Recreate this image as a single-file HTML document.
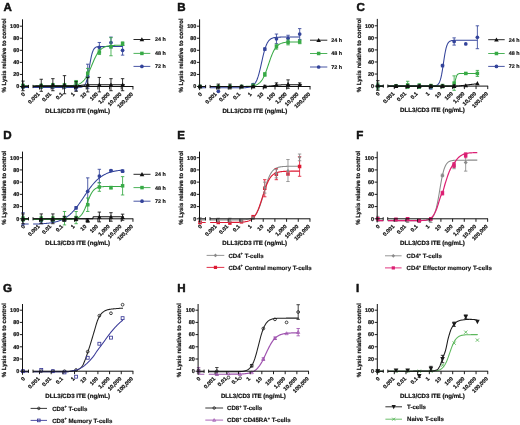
<!DOCTYPE html>
<html><head><meta charset="utf-8"><title>Figure</title>
<style>
html,body{margin:0;padding:0;background:#fff;}
body{width:520px;height:425px;overflow:hidden;}
svg{display:block;filter:blur(0.3px);text-rendering:geometricPrecision;font-family:"Liberation Sans",Arial,sans-serif;font-weight:bold;fill:#111;}
text{stroke:#111;stroke-width:0.22px;stroke-linejoin:round;}
.lg,.lg2{stroke-width:0.15px;}
.pl{stroke-width:0.5px;}
.tk{stroke-width:0.38px;}
.tk{font-size:5.5px;}
.ti{font-size:6.15px;}
.ty{font-size:6px;}
.lg{font-size:5.4px;}
.lg2{font-size:6.1px;}
.pl{font-size:11.6px;}
</style></head><body>
<svg width="520" height="425" viewBox="0 0 520 425">
<rect width="520" height="425" fill="#fff"/>
<g class="tk" text-anchor="end">
<text x="19.3" y="88.3">0</text>
<text x="19.3" y="76.24">20</text>
<text x="19.3" y="64.18">40</text>
<text x="19.3" y="52.12">60</text>
<text x="19.3" y="40.06">80</text>
<text x="19.3" y="28">100</text>
</g>
<g class="tk" text-anchor="end">
<text transform="translate(25.4 94.5) rotate(-45)">0</text>
<text transform="translate(40.1 94.5) rotate(-45)">0.001</text>
<text transform="translate(51.78 94.5) rotate(-45)">0.01</text>
<text transform="translate(63.46 94.5) rotate(-45)">0.1</text>
<text transform="translate(75.14 94.5) rotate(-45)">1</text>
<text transform="translate(86.82 94.5) rotate(-45)">10</text>
<text transform="translate(98.5 94.5) rotate(-45)">100</text>
<text transform="translate(110.18 94.5) rotate(-45)">1,000</text>
<text transform="translate(121.86 94.5) rotate(-45)">10,000</text>
<text transform="translate(133.54 94.5) rotate(-45)">100,000</text>
</g>
<text class="ti" text-anchor="middle" x="77.72" y="112.8">DLL3/CD3 ITE (ng/mL)</text>
<text class="ty" text-anchor="middle" transform="translate(5.7 55.5) rotate(-90)">% Lysis relative to control</text>
<text class="pl" x="3.4" y="11">A</text>
<path d="M33.13 87.4L33.77 87.4L34.41 87.4L35.05 87.4L35.68 87.4L36.32 87.4L36.96 87.4L37.6 87.4L38.24 87.4L38.88 87.4L39.52 87.4L40.16 87.4L40.8 87.4L41.44 87.4L42.07 87.4L42.71 87.4L43.35 87.4L43.99 87.4L44.63 87.4L45.27 87.4L45.91 87.4L46.55 87.4L47.19 87.4L47.83 87.4L48.46 87.4L49.1 87.4L49.74 87.4L50.38 87.4L51.02 87.4L51.66 87.4L52.3 87.4L52.94 87.4L53.58 87.4L54.22 87.4L54.85 87.4L55.49 87.4L56.13 87.4L56.77 87.4L57.41 87.4L58.05 87.4L58.69 87.4L59.33 87.4L59.97 87.4L60.61 87.4L61.24 87.4L61.88 87.4L62.52 87.4L63.16 87.4L63.8 87.4L64.44 87.4L65.08 87.4L65.72 87.4L66.36 87.4L67 87.4L67.63 87.4L68.27 87.4L68.91 87.4L69.55 87.4L70.19 87.4L70.83 87.4L71.47 87.4L72.11 87.4L72.75 87.4L73.39 87.4L74.02 87.4L74.66 87.4L75.3 87.4L75.94 87.39L76.58 87.38L77.22 87.38L77.86 87.36L78.5 87.34L79.14 87.31L79.78 87.27L80.42 87.21L81.05 87.12L81.69 87L82.33 86.81L82.97 86.54L83.61 86.15L84.25 85.6L84.89 84.82L85.53 83.73L86.17 82.25L86.81 80.28L87.44 77.76L88.08 74.69L88.72 71.14L89.36 67.31L90 63.45L90.64 59.82L91.28 56.64L91.92 54L92.56 51.93L93.2 50.35L93.83 49.18L94.47 48.35L95.11 47.75L95.75 47.33L96.39 47.04L97.03 46.84L97.67 46.7L98.31 46.61L98.95 46.54L99.59 46.5L100.22 46.47L100.86 46.45L101.5 46.43L102.14 46.42L102.78 46.42L103.42 46.41L104.06 46.41L104.7 46.41L105.34 46.4L105.98 46.4L106.61 46.4L107.25 46.4L107.89 46.4L108.53 46.4L109.17 46.4L109.81 46.4L110.45 46.4L111.09 46.4L111.73 46.4L112.37 46.4L113 46.4L113.64 46.4L114.28 46.4L114.92 46.4L115.56 46.4L116.2 46.4L116.84 46.4L117.48 46.4L118.12 46.4L118.76 46.4L119.39 46.4L120.03 46.4L120.67 46.4L121.31 46.4L121.95 46.4L122.59 46.4M22.5 87.4H28.7" stroke="#33439a" stroke-width="1.05" fill="none" stroke-linejoin="round"/>
<path d="M23 84.69V88.31M21.3 84.69h3.4M21.3 88.31h3.4M41.25 84.69V88.31M39.55 84.69h3.4M39.55 88.31h3.4M52.87 84.69V88.31M51.17 84.69h3.4M51.17 88.31h3.4M64.49 84.69V88.31M62.79 84.69h3.4M62.79 88.31h3.4M76.11 84.69V90.72M74.41 84.69h3.4M74.41 90.72h3.4M87.73 64.19V88.31M86.03 64.19h3.4M86.03 88.31h3.4M99.35 42.48V52.13M97.65 42.48h3.4M97.65 52.13h3.4M110.97 37.05V47.91M109.27 37.05h3.4M109.27 47.91h3.4M122.59 45.5V55.14M120.89 45.5h3.4M120.89 55.14h3.4" stroke="#33439a" stroke-width="0.85" fill="none"/>
<circle cx="23" cy="86.5" r="1.85" fill="#33439a"/>
<circle cx="41.25" cy="86.5" r="1.85" fill="#33439a"/>
<circle cx="52.87" cy="86.5" r="1.85" fill="#33439a"/>
<circle cx="64.49" cy="86.5" r="1.85" fill="#33439a"/>
<circle cx="76.11" cy="87.71" r="1.85" fill="#33439a"/>
<circle cx="87.73" cy="76.25" r="1.85" fill="#33439a"/>
<circle cx="99.35" cy="47.3" r="1.85" fill="#33439a"/>
<circle cx="110.97" cy="42.48" r="1.85" fill="#33439a"/>
<circle cx="122.59" cy="50.32" r="1.85" fill="#33439a"/>
<path d="M33.13 85.9L33.77 85.9L34.41 85.9L35.05 85.9L35.68 85.9L36.32 85.9L36.96 85.9L37.6 85.9L38.24 85.9L38.88 85.9L39.52 85.9L40.16 85.9L40.8 85.9L41.44 85.9L42.07 85.9L42.71 85.9L43.35 85.9L43.99 85.9L44.63 85.9L45.27 85.9L45.91 85.9L46.55 85.9L47.19 85.9L47.83 85.9L48.46 85.9L49.1 85.9L49.74 85.9L50.38 85.89L51.02 85.89L51.66 85.89L52.3 85.89L52.94 85.89L53.58 85.89L54.22 85.89L54.85 85.89L55.49 85.89L56.13 85.89L56.77 85.89L57.41 85.89L58.05 85.88L58.69 85.88L59.33 85.88L59.97 85.88L60.61 85.87L61.24 85.87L61.88 85.86L62.52 85.86L63.16 85.85L63.8 85.84L64.44 85.83L65.08 85.82L65.72 85.81L66.36 85.8L67 85.78L67.63 85.76L68.27 85.74L68.91 85.72L69.55 85.69L70.19 85.65L70.83 85.61L71.47 85.57L72.11 85.52L72.75 85.45L73.39 85.38L74.02 85.3L74.66 85.2L75.3 85.09L75.94 84.96L76.58 84.81L77.22 84.64L77.86 84.44L78.5 84.21L79.14 83.95L79.78 83.64L80.42 83.3L81.05 82.9L81.69 82.45L82.33 81.94L82.97 81.37L83.61 80.72L84.25 79.99L84.89 79.18L85.53 78.29L86.17 77.3L86.81 76.23L87.44 75.06L88.08 73.81L88.72 72.48L89.36 71.08L90 69.62L90.64 68.12L91.28 66.59L91.92 65.04L92.56 63.5L93.2 61.99L93.83 60.51L94.47 59.09L95.11 57.73L95.75 56.45L96.39 55.26L97.03 54.15L97.67 53.14L98.31 52.21L98.95 51.37L99.59 50.62L100.22 49.94L100.86 49.34L101.5 48.81L102.14 48.34L102.78 47.92L103.42 47.56L104.06 47.24L104.7 46.97L105.34 46.73L105.98 46.52L106.61 46.34L107.25 46.18L107.89 46.04L108.53 45.93L109.17 45.82L109.81 45.74L110.45 45.66L111.09 45.6L111.73 45.54L112.37 45.49L113 45.45L113.64 45.41L114.28 45.38L114.92 45.36L115.56 45.33L116.2 45.31L116.84 45.3L117.48 45.28L118.12 45.27L118.76 45.26L119.39 45.25L120.03 45.24L120.67 45.24L121.31 45.23L121.95 45.23L122.59 45.22M22.5 85.9H28.7" stroke="#38aa46" stroke-width="1.05" fill="none" stroke-linejoin="round"/>
<path d="M23 84.09V87.71M21.3 84.09h3.4M21.3 87.71h3.4M41.25 84.09V87.71M39.55 84.09h3.4M39.55 87.71h3.4M52.87 83.48V87.1M51.17 83.48h3.4M51.17 87.1h3.4M64.49 83.48V87.1M62.79 83.48h3.4M62.79 87.1h3.4M76.11 80.47V84.09M74.41 80.47h3.4M74.41 84.09h3.4M87.73 68.41V78.06M86.03 68.41h3.4M86.03 78.06h3.4M99.35 49.72V54.54M97.65 49.72h3.4M97.65 54.54h3.4M110.97 37.66V55.75M109.27 37.66h3.4M109.27 55.75h3.4M122.59 41.88V45.5M120.89 41.88h3.4M120.89 45.5h3.4" stroke="#38aa46" stroke-width="0.85" fill="none"/>
<rect x="21.25" y="84.15" width="3.5" height="3.5" fill="#38aa46"/>
<rect x="39.5" y="84.15" width="3.5" height="3.5" fill="#38aa46"/>
<rect x="51.12" y="83.54" width="3.5" height="3.5" fill="#38aa46"/>
<rect x="62.74" y="83.54" width="3.5" height="3.5" fill="#38aa46"/>
<rect x="74.36" y="80.53" width="3.5" height="3.5" fill="#38aa46"/>
<rect x="85.98" y="71.48" width="3.5" height="3.5" fill="#38aa46"/>
<rect x="97.6" y="50.38" width="3.5" height="3.5" fill="#38aa46"/>
<rect x="109.22" y="44.95" width="3.5" height="3.5" fill="#38aa46"/>
<rect x="120.84" y="41.94" width="3.5" height="3.5" fill="#38aa46"/>
<path d="M33.13 85.9L33.78 85.9L34.44 85.9L35.1 85.9L35.75 85.89L36.41 85.89L37.06 85.89L37.72 85.89L38.38 85.89L39.03 85.89L39.69 85.89L40.34 85.89L41 85.89L41.66 85.89L42.31 85.89L42.97 85.89L43.62 85.88L44.28 85.88L44.94 85.88L45.59 85.88L46.25 85.88L46.9 85.88L47.56 85.88L48.21 85.87L48.87 85.87L49.53 85.87L50.18 85.87L50.84 85.87L51.49 85.86L52.15 85.86L52.81 85.86L53.46 85.86L54.12 85.85L54.77 85.85L55.43 85.85L56.09 85.85L56.74 85.84L57.4 85.84L58.05 85.84L58.71 85.83L59.37 85.83L60.02 85.83L60.68 85.83L61.33 85.82L61.99 85.82L62.65 85.81L63.3 85.81L63.96 85.81L64.61 85.8L65.27 85.8L65.93 85.79L66.58 85.79L67.24 85.79L67.89 85.78L68.55 85.78L69.21 85.77L69.86 85.77L70.52 85.76L71.17 85.76L71.83 85.75L72.49 85.75L73.14 85.74L73.8 85.74L74.45 85.73L75.11 85.73L75.77 85.72L76.42 85.71L77.08 85.69L77.73 85.66L78.39 85.61L79.04 85.56L79.7 85.5L80.36 85.43L81.01 85.36L81.67 85.29L82.32 85.22L82.98 85.14L83.64 85.07L84.29 85.01L84.95 84.95L85.6 84.9L86.26 84.86L86.92 84.83L87.57 84.81L88.23 84.81L88.88 84.8L89.54 84.8L90.2 84.8L90.85 84.79L91.51 84.79L92.16 84.78L92.82 84.78L93.48 84.78L94.13 84.77L94.79 84.77L95.44 84.77L96.1 84.76L96.76 84.76L97.41 84.76L98.07 84.75L98.72 84.75L99.38 84.75L100.04 84.74L100.69 84.74L101.35 84.74L102 84.74L102.66 84.73L103.32 84.73L103.97 84.73L104.63 84.73L105.28 84.72L105.94 84.72L106.6 84.72L107.25 84.72L107.91 84.72L108.56 84.71L109.22 84.71L109.87 84.71L110.53 84.71L111.19 84.71L111.84 84.71L112.5 84.71L113.15 84.7L113.81 84.7L114.47 84.7L115.12 84.7L115.78 84.7L116.43 84.7L117.09 84.7L117.75 84.7L118.4 84.7L119.06 84.7L119.71 84.69L120.37 84.69L121.03 84.69L121.68 84.69L122.34 84.69L122.99 84.69L123.65 84.69L124.31 84.69L124.96 84.69M22.5 85.9H28.7" stroke="#111" stroke-width="1.05" fill="none" stroke-linejoin="round"/>
<path d="M23 81.07V90.72M21.3 81.07h3.4M21.3 90.72h3.4M41.25 79.26V91.32M39.55 79.26h3.4M39.55 91.32h3.4M52.87 78.66V90.72M51.17 78.66h3.4M51.17 90.72h3.4M64.49 75.65V93.74M62.79 75.65h3.4M62.79 93.74h3.4M76.11 81.68V91.32M74.41 81.68h3.4M74.41 91.32h3.4M87.73 77.45V91.93M86.03 77.45h3.4M86.03 91.93h3.4M99.35 77.45V91.93M97.65 77.45h3.4M97.65 91.93h3.4M110.97 78.66V90.72M109.27 78.66h3.4M109.27 90.72h3.4M122.59 78.66V90.72M120.89 78.66h3.4M120.89 90.72h3.4" stroke="#111" stroke-width="0.85" fill="none"/>
<path d="M23 83.6L25.3 87.74H20.7Z" fill="#111"/>
<path d="M41.25 82.99L43.55 87.13H38.95Z" fill="#111"/>
<path d="M52.87 82.39L55.17 86.53H50.57Z" fill="#111"/>
<path d="M64.49 82.39L66.79 86.53H62.19Z" fill="#111"/>
<path d="M76.11 84.2L78.41 88.34H73.81Z" fill="#111"/>
<path d="M87.73 82.39L90.03 86.53H85.43Z" fill="#111"/>
<path d="M99.35 82.39L101.65 86.53H97.05Z" fill="#111"/>
<path d="M110.97 82.39L113.27 86.53H108.67Z" fill="#111"/>
<path d="M122.59 82.39L124.89 86.53H120.29Z" fill="#111"/>
<path d="M133.5 39.5H150.3" stroke="#111" stroke-width="0.9"/>
<path d="M141.9 37.2L144.2 41.34H139.6Z" fill="#111"/>
<text class="lg" x="155" y="41.4">24 h</text>
<path d="M133.5 53.4H150.3" stroke="#38aa46" stroke-width="0.9"/>
<rect x="140.15" y="51.65" width="3.5" height="3.5" fill="#38aa46"/>
<text class="lg" x="155" y="55.3">48 h</text>
<path d="M133.5 66.4H150.3" stroke="#33439a" stroke-width="0.9"/>
<circle cx="141.9" cy="66.4" r="1.85" fill="#33439a"/>
<text class="lg" x="155" y="68.3">72 h</text>
<g class="tk" text-anchor="end">
<text x="196.4" y="88.3">0</text>
<text x="196.4" y="76.24">20</text>
<text x="196.4" y="64.18">40</text>
<text x="196.4" y="52.12">60</text>
<text x="196.4" y="40.06">80</text>
<text x="196.4" y="28">100</text>
</g>
<g class="tk" text-anchor="end">
<text transform="translate(202.5 94.5) rotate(-45)">0</text>
<text transform="translate(217.2 94.5) rotate(-45)">0.001</text>
<text transform="translate(228.88 94.5) rotate(-45)">0.01</text>
<text transform="translate(240.56 94.5) rotate(-45)">0.1</text>
<text transform="translate(252.24 94.5) rotate(-45)">1</text>
<text transform="translate(263.92 94.5) rotate(-45)">10</text>
<text transform="translate(275.6 94.5) rotate(-45)">100</text>
<text transform="translate(287.28 94.5) rotate(-45)">1,000</text>
<text transform="translate(298.96 94.5) rotate(-45)">10,000</text>
<text transform="translate(310.64 94.5) rotate(-45)">100,000</text>
</g>
<text class="ti" text-anchor="middle" x="254.82" y="112.8">DLL3/CD3 ITE (ng/mL)</text>
<text class="ty" text-anchor="middle" transform="translate(182.8 55.5) rotate(-90)">% Lysis relative to control</text>
<text class="pl" x="177.2" y="10.9">B</text>
<path d="M210.23 87.83L210.87 87.83L211.51 87.83L212.15 87.83L212.78 87.83L213.42 87.83L214.06 87.83L214.7 87.83L215.34 87.83L215.98 87.83L216.62 87.83L217.26 87.83L217.9 87.83L218.54 87.83L219.17 87.83L219.81 87.83L220.45 87.83L221.09 87.83L221.73 87.83L222.37 87.83L223.01 87.83L223.65 87.83L224.29 87.83L224.93 87.83L225.56 87.83L226.2 87.83L226.84 87.83L227.48 87.83L228.12 87.83L228.76 87.83L229.4 87.83L230.04 87.83L230.68 87.83L231.32 87.83L231.95 87.83L232.59 87.82L233.23 87.82L233.87 87.82L234.51 87.82L235.15 87.82L235.79 87.82L236.43 87.82L237.07 87.82L237.71 87.82L238.34 87.81L238.98 87.81L239.62 87.81L240.26 87.8L240.9 87.8L241.54 87.79L242.18 87.78L242.82 87.76L243.46 87.75L244.1 87.73L244.73 87.7L245.37 87.67L246.01 87.63L246.65 87.58L247.29 87.52L247.93 87.45L248.57 87.35L249.21 87.23L249.85 87.08L250.49 86.89L251.12 86.65L251.76 86.36L252.4 86L253.04 85.56L253.68 85.01L254.32 84.34L254.96 83.52L255.6 82.53L256.24 81.35L256.88 79.95L257.52 78.31L258.15 76.42L258.79 74.28L259.43 71.9L260.07 69.31L260.71 66.55L261.35 63.69L261.99 60.8L262.63 57.96L263.27 55.22L263.91 52.65L264.54 50.31L265.18 48.2L265.82 46.34L266.46 44.73L267.1 43.36L267.74 42.21L268.38 41.24L269.02 40.45L269.66 39.79L270.3 39.26L270.93 38.83L271.57 38.47L272.21 38.19L272.85 37.96L273.49 37.78L274.13 37.63L274.77 37.52L275.41 37.42L276.05 37.35L276.69 37.29L277.32 37.24L277.96 37.2L278.6 37.17L279.24 37.15L279.88 37.13L280.52 37.11L281.16 37.1L281.8 37.09L282.44 37.08L283.08 37.08L283.71 37.07L284.35 37.07L284.99 37.07L285.63 37.06L286.27 37.06L286.91 37.06L287.55 37.06L288.19 37.06L288.83 37.06L289.47 37.06L290.1 37.06L290.74 37.06L291.38 37.06L292.02 37.05L292.66 37.05L293.3 37.05L293.94 37.05L294.58 37.05L295.22 37.05L295.86 37.05L296.49 37.05L297.13 37.05L297.77 37.05L298.41 37.05L299.05 37.05L299.69 37.05M199.6 87.83H205.8" stroke="#33439a" stroke-width="1.05" fill="none" stroke-linejoin="round"/>
<path d="M253.21 83.48V85.9M251.51 83.48h3.4M251.51 85.9h3.4M264.83 47.91V50.32M263.13 47.91h3.4M263.13 50.32h3.4M276.45 34.04V43.69M274.75 34.04h3.4M274.75 43.69h3.4M288.07 35.25V41.27M286.37 35.25h3.4M286.37 41.27h3.4M299.69 28.61V39.47M297.99 28.61h3.4M297.99 39.47h3.4" stroke="#33439a" stroke-width="0.85" fill="none"/>
<circle cx="200.1" cy="86.5" r="1.85" fill="#33439a"/>
<circle cx="218.35" cy="91.32" r="1.85" fill="#33439a"/>
<circle cx="229.97" cy="86.5" r="1.85" fill="#33439a"/>
<circle cx="241.59" cy="86.5" r="1.85" fill="#33439a"/>
<circle cx="253.21" cy="84.69" r="1.85" fill="#33439a"/>
<circle cx="264.83" cy="49.11" r="1.85" fill="#33439a"/>
<circle cx="276.45" cy="38.86" r="1.85" fill="#33439a"/>
<circle cx="288.07" cy="38.26" r="1.85" fill="#33439a"/>
<circle cx="299.69" cy="34.04" r="1.85" fill="#33439a"/>
<path d="M210.23 86.5L210.87 86.5L211.51 86.5L212.15 86.5L212.78 86.5L213.42 86.5L214.06 86.5L214.7 86.5L215.34 86.5L215.98 86.5L216.62 86.5L217.26 86.5L217.9 86.5L218.54 86.5L219.17 86.5L219.81 86.5L220.45 86.5L221.09 86.5L221.73 86.5L222.37 86.5L223.01 86.5L223.65 86.5L224.29 86.5L224.93 86.5L225.56 86.5L226.2 86.5L226.84 86.5L227.48 86.5L228.12 86.5L228.76 86.5L229.4 86.5L230.04 86.5L230.68 86.5L231.32 86.5L231.95 86.5L232.59 86.5L233.23 86.5L233.87 86.5L234.51 86.5L235.15 86.49L235.79 86.49L236.43 86.49L237.07 86.49L237.71 86.49L238.34 86.49L238.98 86.48L239.62 86.48L240.26 86.48L240.9 86.47L241.54 86.47L242.18 86.46L242.82 86.45L243.46 86.45L244.1 86.44L244.73 86.42L245.37 86.41L246.01 86.39L246.65 86.37L247.29 86.35L247.93 86.32L248.57 86.29L249.21 86.25L249.85 86.2L250.49 86.15L251.12 86.08L251.76 86.01L252.4 85.92L253.04 85.81L253.68 85.68L254.32 85.54L254.96 85.36L255.6 85.16L256.24 84.91L256.88 84.63L257.52 84.3L258.15 83.91L258.79 83.46L259.43 82.94L260.07 82.34L260.71 81.65L261.35 80.86L261.99 79.96L262.63 78.95L263.27 77.81L263.91 76.56L264.54 75.17L265.18 73.67L265.82 72.05L266.46 70.33L267.1 68.53L267.74 66.67L268.38 64.77L269.02 62.87L269.66 60.98L270.3 59.14L270.93 57.37L271.57 55.69L272.21 54.11L272.85 52.66L273.49 51.32L274.13 50.11L274.77 49.02L275.41 48.06L276.05 47.2L276.69 46.45L277.32 45.8L277.96 45.23L278.6 44.73L279.24 44.31L279.88 43.95L280.52 43.63L281.16 43.37L281.8 43.14L282.44 42.95L283.08 42.78L283.71 42.64L284.35 42.52L284.99 42.42L285.63 42.34L286.27 42.27L286.91 42.21L287.55 42.15L288.19 42.11L288.83 42.08L289.47 42.04L290.1 42.02L290.74 42L291.38 41.98L292.02 41.96L292.66 41.95L293.3 41.94L293.94 41.93L294.58 41.92L295.22 41.91L295.86 41.91L296.49 41.9L297.13 41.9L297.77 41.9L298.41 41.89L299.05 41.89L299.69 41.89M199.6 86.5H205.8" stroke="#38aa46" stroke-width="1.05" fill="none" stroke-linejoin="round"/>
<path d="M264.83 72.63V76.25M263.13 72.63h3.4M263.13 76.25h3.4M276.45 44.29V49.11M274.75 44.29h3.4M274.75 49.11h3.4M288.07 40.07V44.89M286.37 40.07h3.4M286.37 44.89h3.4M299.69 40.07V43.69M297.99 40.07h3.4M297.99 43.69h3.4" stroke="#38aa46" stroke-width="0.85" fill="none"/>
<rect x="198.35" y="84.75" width="3.5" height="3.5" fill="#38aa46"/>
<rect x="216.6" y="84.75" width="3.5" height="3.5" fill="#38aa46"/>
<rect x="228.22" y="84.75" width="3.5" height="3.5" fill="#38aa46"/>
<rect x="239.84" y="84.75" width="3.5" height="3.5" fill="#38aa46"/>
<rect x="251.46" y="83.54" width="3.5" height="3.5" fill="#38aa46"/>
<rect x="263.08" y="72.69" width="3.5" height="3.5" fill="#38aa46"/>
<rect x="274.7" y="44.95" width="3.5" height="3.5" fill="#38aa46"/>
<rect x="286.32" y="40.73" width="3.5" height="3.5" fill="#38aa46"/>
<rect x="297.94" y="40.13" width="3.5" height="3.5" fill="#38aa46"/>
<path d="M210.23 86.5L210.88 86.5L211.54 86.5L212.2 86.5L212.85 86.5L213.51 86.5L214.16 86.5L214.82 86.5L215.48 86.5L216.13 86.5L216.79 86.5L217.44 86.5L218.1 86.5L218.76 86.5L219.41 86.5L220.07 86.5L220.72 86.5L221.38 86.5L222.04 86.5L222.69 86.5L223.35 86.5L224 86.5L224.66 86.5L225.31 86.5L225.97 86.5L226.63 86.5L227.28 86.5L227.94 86.5L228.59 86.5L229.25 86.5L229.91 86.5L230.56 86.5L231.22 86.5L231.87 86.5L232.53 86.5L233.19 86.5L233.84 86.5L234.5 86.5L235.15 86.5L235.81 86.5L236.47 86.5L237.12 86.5L237.78 86.5L238.43 86.5L239.09 86.5L239.75 86.5L240.4 86.5L241.06 86.5L241.71 86.5L242.37 86.5L243.03 86.5L243.68 86.5L244.34 86.5L244.99 86.5L245.65 86.5L246.31 86.5L246.96 86.5L247.62 86.5L248.27 86.5L248.93 86.5L249.59 86.5L250.24 86.5L250.9 86.5L251.55 86.5L252.21 86.5L252.87 86.5L253.52 86.5L254.18 86.49L254.83 86.49L255.49 86.49L256.14 86.49L256.8 86.49L257.46 86.49L258.11 86.48L258.77 86.48L259.42 86.48L260.08 86.47L260.74 86.46L261.39 86.46L262.05 86.45L262.7 86.44L263.36 86.42L264.02 86.41L264.67 86.39L265.33 86.37L265.98 86.34L266.64 86.31L267.3 86.28L267.95 86.23L268.61 86.19L269.26 86.13L269.92 86.07L270.58 86.01L271.23 85.93L271.89 85.85L272.54 85.77L273.2 85.69L273.86 85.6L274.51 85.51L275.17 85.42L275.82 85.34L276.48 85.26L277.14 85.19L277.79 85.12L278.45 85.06L279.1 85.01L279.76 84.96L280.42 84.92L281.07 84.88L281.73 84.85L282.38 84.82L283.04 84.8L283.7 84.78L284.35 84.77L285.01 84.75L285.66 84.74L286.32 84.73L286.97 84.73L287.63 84.72L288.29 84.72L288.94 84.71L289.6 84.71L290.25 84.7L290.91 84.7L291.57 84.7L292.22 84.7L292.88 84.7L293.53 84.7L294.19 84.7L294.85 84.69L295.5 84.69L296.16 84.69L296.81 84.69L297.47 84.69L298.13 84.69L298.78 84.69L299.44 84.69L300.09 84.69L300.75 84.69L301.41 84.69L302.06 84.69M199.6 86.5H205.8" stroke="#111" stroke-width="1.05" fill="none" stroke-linejoin="round"/>
<path d="M200.1 85.29V87.71M198.4 85.29h3.4M198.4 87.71h3.4M218.35 84.09V88.91M216.65 84.09h3.4M216.65 88.91h3.4M229.97 84.09V88.91M228.27 84.09h3.4M228.27 88.91h3.4M241.59 85.29V87.71M239.89 85.29h3.4M239.89 87.71h3.4M253.21 85.29V87.71M251.51 85.29h3.4M251.51 87.71h3.4M264.83 85.29V87.71M263.13 85.29h3.4M263.13 87.71h3.4M276.45 82.88V86.5M274.75 82.88h3.4M274.75 86.5h3.4M288.07 79.87V88.31M286.37 79.87h3.4M286.37 88.31h3.4M299.69 82.88V86.5M297.99 82.88h3.4M297.99 86.5h3.4" stroke="#111" stroke-width="0.85" fill="none"/>
<path d="M200.1 84.2L202.4 88.34H197.8Z" fill="#111"/>
<path d="M218.35 84.2L220.65 88.34H216.05Z" fill="#111"/>
<path d="M229.97 84.2L232.27 88.34H227.67Z" fill="#111"/>
<path d="M241.59 84.2L243.89 88.34H239.29Z" fill="#111"/>
<path d="M253.21 84.2L255.51 88.34H250.91Z" fill="#111"/>
<path d="M264.83 84.2L267.13 88.34H262.53Z" fill="#111"/>
<path d="M276.45 82.39L278.75 86.53H274.15Z" fill="#111"/>
<path d="M288.07 81.79L290.37 85.93H285.77Z" fill="#111"/>
<path d="M299.69 82.39L301.99 86.53H297.39Z" fill="#111"/>
<path d="M310 40.2H327.3" stroke="#111" stroke-width="0.9"/>
<path d="M318.65 37.9L320.95 42.04H316.35Z" fill="#111"/>
<text class="lg" x="331.2" y="42.1">24 h</text>
<path d="M310 53.5H327.3" stroke="#38aa46" stroke-width="0.9"/>
<rect x="316.9" y="51.75" width="3.5" height="3.5" fill="#38aa46"/>
<text class="lg" x="331.2" y="55.4">48 h</text>
<path d="M310 67H327.3" stroke="#33439a" stroke-width="0.9"/>
<circle cx="318.65" cy="67" r="1.85" fill="#33439a"/>
<text class="lg" x="331.2" y="68.9">72 h</text>
<g class="tk" text-anchor="end">
<text x="374.1" y="87.9">0</text>
<text x="374.1" y="75.84">20</text>
<text x="374.1" y="63.78">40</text>
<text x="374.1" y="51.72">60</text>
<text x="374.1" y="39.66">80</text>
<text x="374.1" y="27.6">100</text>
</g>
<g class="tk" text-anchor="end">
<text transform="translate(380.2 94.1) rotate(-45)">0</text>
<text transform="translate(394.9 94.1) rotate(-45)">0.001</text>
<text transform="translate(406.58 94.1) rotate(-45)">0.01</text>
<text transform="translate(418.26 94.1) rotate(-45)">0.1</text>
<text transform="translate(429.94 94.1) rotate(-45)">1</text>
<text transform="translate(441.62 94.1) rotate(-45)">10</text>
<text transform="translate(453.3 94.1) rotate(-45)">100</text>
<text transform="translate(464.98 94.1) rotate(-45)">1,000</text>
<text transform="translate(476.66 94.1) rotate(-45)">10,000</text>
<text transform="translate(488.34 94.1) rotate(-45)">100,000</text>
</g>
<text class="ti" text-anchor="middle" x="432.52" y="112.4">DLL3/CD3 ITE (ng/mL)</text>
<text class="ty" text-anchor="middle" transform="translate(360.5 55.1) rotate(-90)">% Lysis relative to control</text>
<text class="pl" x="356.6" y="11">C</text>
<path d="M387.93 86.1L388.57 86.1L389.21 86.1L389.85 86.1L390.48 86.1L391.12 86.1L391.76 86.1L392.4 86.1L393.04 86.1L393.68 86.1L394.32 86.1L394.96 86.1L395.6 86.1L396.24 86.1L396.87 86.1L397.51 86.1L398.15 86.1L398.79 86.1L399.43 86.1L400.07 86.1L400.71 86.1L401.35 86.1L401.99 86.1L402.63 86.1L403.26 86.1L403.9 86.1L404.54 86.1L405.18 86.1L405.82 86.1L406.46 86.1L407.1 86.1L407.74 86.1L408.38 86.1L409.02 86.1L409.65 86.1L410.29 86.1L410.93 86.1L411.57 86.1L412.21 86.1L412.85 86.1L413.49 86.1L414.13 86.1L414.77 86.1L415.41 86.1L416.04 86.1L416.68 86.1L417.32 86.1L417.96 86.1L418.6 86.1L419.24 86.1L419.88 86.1L420.52 86.1L421.16 86.1L421.8 86.1L422.43 86.1L423.07 86.1L423.71 86.1L424.35 86.1L424.99 86.1L425.63 86.1L426.27 86.1L426.91 86.1L427.55 86.1L428.19 86.09L428.82 86.09L429.46 86.09L430.1 86.08L430.74 86.08L431.38 86.06L432.02 86.05L432.66 86.03L433.3 85.99L433.94 85.94L434.58 85.87L435.22 85.76L435.85 85.6L436.49 85.38L437.13 85.05L437.77 84.59L438.41 83.92L439.05 82.98L439.69 81.68L440.33 79.91L440.97 77.58L441.61 74.63L442.24 71.06L442.88 67.01L443.52 62.69L444.16 58.41L444.8 54.45L445.44 51.02L446.08 48.21L446.72 46.02L447.36 44.36L448 43.15L448.63 42.28L449.27 41.67L449.91 41.23L450.55 40.93L451.19 40.73L451.83 40.58L452.47 40.49L453.11 40.42L453.75 40.37L454.39 40.34L455.02 40.32L455.66 40.3L456.3 40.29L456.94 40.29L457.58 40.28L458.22 40.28L458.86 40.28L459.5 40.28L460.14 40.27L460.78 40.27L461.41 40.27L462.05 40.27L462.69 40.27L463.33 40.27L463.97 40.27L464.61 40.27L465.25 40.27L465.89 40.27L466.53 40.27L467.17 40.27L467.8 40.27L468.44 40.27L469.08 40.27L469.72 40.27L470.36 40.27L471 40.27L471.64 40.27L472.28 40.27L472.92 40.27L473.56 40.27L474.19 40.27L474.83 40.27L475.47 40.27L476.11 40.27L476.75 40.27L477.39 40.27M377.3 86.1H383.5" stroke="#33439a" stroke-width="1.05" fill="none" stroke-linejoin="round"/>
<path d="M377.8 84.29V87.91M376.1 84.29h3.4M376.1 87.91h3.4M419.29 84.89V88.51M417.59 84.89h3.4M417.59 88.51h3.4M430.91 85.5V89.11M429.21 85.5h3.4M429.21 89.11h3.4M442.53 64.39V66.8M440.83 64.39h3.4M440.83 66.8h3.4M454.15 37.86V45.1M452.45 37.86h3.4M452.45 45.1h3.4M477.39 25.8V48.71M475.69 25.8h3.4M475.69 48.71h3.4" stroke="#33439a" stroke-width="0.85" fill="none"/>
<circle cx="377.8" cy="86.1" r="1.85" fill="#33439a"/>
<circle cx="396.05" cy="86.1" r="1.85" fill="#33439a"/>
<circle cx="407.67" cy="86.1" r="1.85" fill="#33439a"/>
<circle cx="419.29" cy="86.7" r="1.85" fill="#33439a"/>
<circle cx="430.91" cy="87.31" r="1.85" fill="#33439a"/>
<circle cx="442.53" cy="65.6" r="1.85" fill="#33439a"/>
<circle cx="454.15" cy="41.48" r="1.85" fill="#33439a"/>
<circle cx="465.77" cy="43.89" r="1.85" fill="#33439a"/>
<circle cx="477.39" cy="37.26" r="1.85" fill="#33439a"/>
<path d="M387.93 86.1L388.57 86.1L389.21 86.1L389.85 86.1L390.48 86.1L391.12 86.1L391.76 86.1L392.4 86.1L393.04 86.1L393.68 86.1L394.32 86.1L394.96 86.1L395.6 86.1L396.24 86.1L396.87 86.1L397.51 86.1L398.15 86.1L398.79 86.1L399.43 86.1L400.07 86.1L400.71 86.1L401.35 86.1L401.99 86.1L402.63 86.1L403.26 86.1L403.9 86.1L404.54 86.1L405.18 86.1L405.82 86.1L406.46 86.1L407.1 86.1L407.74 86.1L408.38 86.1L409.02 86.1L409.65 86.1L410.29 86.1L410.93 86.1L411.57 86.1L412.21 86.1L412.85 86.1L413.49 86.1L414.13 86.1L414.77 86.1L415.41 86.1L416.04 86.1L416.68 86.1L417.32 86.1L417.96 86.1L418.6 86.1L419.24 86.1L419.88 86.1L420.52 86.1L421.16 86.1L421.8 86.1L422.43 86.1L423.07 86.1L423.71 86.1L424.35 86.1L424.99 86.1L425.63 86.1L426.27 86.1L426.91 86.1L427.55 86.1L428.19 86.1L428.82 86.1L429.46 86.1L430.1 86.1L430.74 86.1L431.38 86.1L432.02 86.1L432.66 86.1L433.3 86.1L433.94 86.1L434.58 86.1L435.22 86.1L435.85 86.1L436.49 86.1L437.13 86.1L437.77 86.1L438.41 86.1L439.05 86.1L439.69 86.1L440.33 86.1L440.97 86.1L441.61 86.1L442.24 86.1L442.88 86.1L443.52 86.1L444.16 86.1L444.8 86.1L445.44 86.1L446.08 86.1L446.72 86.1L447.36 86.1L448 86.1L448.63 86.1L449.27 86.09L449.91 86.08L450.55 86.06L451.19 86.02L451.83 85.94L452.47 85.75L453.11 85.38L453.75 84.66L454.39 83.38L455.02 81.42L455.66 79.06L456.3 76.88L456.94 75.32L457.58 74.39L458.22 73.9L458.86 73.66L459.5 73.54L460.14 73.49L460.78 73.46L461.41 73.45L462.05 73.44L462.69 73.44L463.33 73.44L463.97 73.44L464.61 73.44L465.25 73.44L465.89 73.44L466.53 73.44L467.17 73.44L467.8 73.44L468.44 73.44L469.08 73.44L469.72 73.44L470.36 73.44L471 73.44L471.64 73.44L472.28 73.44L472.92 73.44L473.56 73.44L474.19 73.44L474.83 73.44L475.47 73.44L476.11 73.44L476.75 73.44L477.39 73.44M377.3 86.1H383.5" stroke="#38aa46" stroke-width="1.05" fill="none" stroke-linejoin="round"/>
<path d="M377.8 83.08V89.11M376.1 83.08h3.4M376.1 89.11h3.4M396.05 84.89V87.31M394.35 84.89h3.4M394.35 87.31h3.4M407.67 81.28V88.51M405.97 81.28h3.4M405.97 88.51h3.4M419.29 83.69V88.51M417.59 83.69h3.4M417.59 88.51h3.4M430.91 84.29V87.91M429.21 84.29h3.4M429.21 87.91h3.4M442.53 84.29V87.91M440.83 84.29h3.4M440.83 87.91h3.4M454.15 75.85V90.32M452.45 75.85h3.4M452.45 90.32h3.4M465.77 72.83V74.04M464.07 72.83h3.4M464.07 74.04h3.4M477.39 70.42V76.45M475.69 70.42h3.4M475.69 76.45h3.4" stroke="#38aa46" stroke-width="0.85" fill="none"/>
<rect x="376.05" y="84.35" width="3.5" height="3.5" fill="#38aa46"/>
<rect x="394.3" y="84.35" width="3.5" height="3.5" fill="#38aa46"/>
<rect x="405.92" y="83.14" width="3.5" height="3.5" fill="#38aa46"/>
<rect x="417.54" y="84.35" width="3.5" height="3.5" fill="#38aa46"/>
<rect x="429.16" y="84.35" width="3.5" height="3.5" fill="#38aa46"/>
<rect x="440.78" y="84.35" width="3.5" height="3.5" fill="#38aa46"/>
<rect x="452.4" y="81.33" width="3.5" height="3.5" fill="#38aa46"/>
<rect x="464.02" y="71.69" width="3.5" height="3.5" fill="#38aa46"/>
<rect x="475.64" y="71.69" width="3.5" height="3.5" fill="#38aa46"/>
<path d="M387.93 86.1L388.57 86.1L389.21 86.1L389.85 86.1L390.48 86.1L391.12 86.1L391.76 86.1L392.4 86.1L393.04 86.1L393.68 86.1L394.32 86.1L394.96 86.1L395.6 86.1L396.24 86.1L396.87 86.1L397.51 86.1L398.15 86.1L398.79 86.1L399.43 86.1L400.07 86.1L400.71 86.1L401.35 86.1L401.99 86.1L402.63 86.1L403.26 86.1L403.9 86.1L404.54 86.1L405.18 86.1L405.82 86.1L406.46 86.1L407.1 86.1L407.74 86.1L408.38 86.1L409.02 86.1L409.65 86.1L410.29 86.1L410.93 86.1L411.57 86.1L412.21 86.1L412.85 86.1L413.49 86.1L414.13 86.1L414.77 86.1L415.41 86.1L416.04 86.1L416.68 86.1L417.32 86.1L417.96 86.1L418.6 86.1L419.24 86.1L419.88 86.1L420.52 86.1L421.16 86.1L421.8 86.1L422.43 86.1L423.07 86.1L423.71 86.1L424.35 86.1L424.99 86.1L425.63 86.1L426.27 86.1L426.91 86.1L427.55 86.1L428.19 86.1L428.82 86.1L429.46 86.1L430.1 86.1L430.74 86.1L431.38 86.1L432.02 86.1L432.66 86.1L433.3 86.1L433.94 86.1L434.58 86.1L435.22 86.1L435.85 86.1L436.49 86.1L437.13 86.1L437.77 86.1L438.41 86.1L439.05 86.1L439.69 86.1L440.33 86.1L440.97 86.1L441.61 86.1L442.24 86.1L442.88 86.1L443.52 86.1L444.16 86.1L444.8 86.1L445.44 86.1L446.08 86.1L446.72 86.1L447.36 86.1L448 86.1L448.63 86.1L449.27 86.1L449.91 86.1L450.55 86.1L451.19 86.1L451.83 86.1L452.47 86.1L453.11 86.1L453.75 86.1L454.39 86.1L455.02 86.1L455.66 86.1L456.3 86.1L456.94 86.1L457.58 86.1L458.22 86.03L458.86 85.95L459.5 85.87L460.14 85.79L460.78 85.72L461.41 85.64L462.05 85.56L462.69 85.48L463.33 85.4L463.97 85.33L464.61 85.25L465.25 85.17L465.89 85.09L466.53 85.01L467.17 84.94L467.8 84.86L468.44 84.78L469.08 84.7L469.72 84.62L470.36 84.55L471 84.47L471.64 84.39L472.28 84.31L472.92 84.23L473.56 84.16L474.19 84.08L474.83 84L475.47 83.92L476.11 83.84L476.75 83.77L477.39 83.69M377.3 86.1H383.5" stroke="#111" stroke-width="1.05" fill="none" stroke-linejoin="round"/>
<path d="M377.8 80.67V90.32M376.1 80.67h3.4M376.1 90.32h3.4M396.05 84.89V87.31M394.35 84.89h3.4M394.35 87.31h3.4M407.67 84.89V87.31M405.97 84.89h3.4M405.97 87.31h3.4M419.29 84.89V87.31M417.59 84.89h3.4M417.59 87.31h3.4M430.91 84.89V87.31M429.21 84.89h3.4M429.21 87.31h3.4M442.53 84.89V87.31M440.83 84.89h3.4M440.83 87.31h3.4M454.15 84.89V87.31M452.45 84.89h3.4M452.45 87.31h3.4" stroke="#111" stroke-width="0.85" fill="none"/>
<path d="M377.8 83.2L380.1 87.34H375.5Z" fill="#111"/>
<path d="M396.05 83.8L398.35 87.94H393.75Z" fill="#111"/>
<path d="M407.67 83.8L409.97 87.94H405.37Z" fill="#111"/>
<path d="M419.29 83.8L421.59 87.94H416.99Z" fill="#111"/>
<path d="M430.91 83.8L433.21 87.94H428.61Z" fill="#111"/>
<path d="M442.53 83.8L444.83 87.94H440.23Z" fill="#111"/>
<path d="M454.15 83.8L456.45 87.94H451.85Z" fill="#111"/>
<path d="M465.77 83.2L468.07 87.34H463.47Z" fill="#111"/>
<path d="M477.39 81.09L479.69 85.23H475.09Z" fill="#111"/>
<path d="M488.2 39.7H504.7" stroke="#111" stroke-width="0.9"/>
<path d="M496.45 37.4L498.75 41.54H494.15Z" fill="#111"/>
<text class="lg" x="508.7" y="41.6">24 h</text>
<path d="M488.2 53.5H504.7" stroke="#38aa46" stroke-width="0.9"/>
<rect x="494.7" y="51.75" width="3.5" height="3.5" fill="#38aa46"/>
<text class="lg" x="508.7" y="55.4">48 h</text>
<path d="M488.2 66.4H504.7" stroke="#33439a" stroke-width="0.9"/>
<circle cx="496.45" cy="66.4" r="1.85" fill="#33439a"/>
<text class="lg" x="508.7" y="68.3">72 h</text>
<g class="tk" text-anchor="end">
<text x="19.3" y="220.6">0</text>
<text x="19.3" y="208.38">20</text>
<text x="19.3" y="196.16">40</text>
<text x="19.3" y="183.94">60</text>
<text x="19.3" y="171.72">80</text>
<text x="19.3" y="159.5">100</text>
</g>
<g class="tk" text-anchor="end">
<text transform="translate(25.4 226.8) rotate(-45)">0</text>
<text transform="translate(40.1 226.8) rotate(-45)">0.001</text>
<text transform="translate(51.78 226.8) rotate(-45)">0.01</text>
<text transform="translate(63.46 226.8) rotate(-45)">0.1</text>
<text transform="translate(75.14 226.8) rotate(-45)">1</text>
<text transform="translate(86.82 226.8) rotate(-45)">10</text>
<text transform="translate(98.5 226.8) rotate(-45)">100</text>
<text transform="translate(110.18 226.8) rotate(-45)">1,000</text>
<text transform="translate(121.86 226.8) rotate(-45)">10,000</text>
<text transform="translate(133.54 226.8) rotate(-45)">100,000</text>
</g>
<text class="ti" text-anchor="middle" x="77.72" y="245.1">DLL3/CD3 ITE (ng/mL)</text>
<text class="ty" text-anchor="middle" transform="translate(5.7 187.8) rotate(-90)">% Lysis relative to control</text>
<text class="pl" x="3.2" y="139.1">D</text>
<path d="M33.13 224.08L33.77 224.07L34.41 224.05L35.05 224.03L35.68 224.01L36.32 223.99L36.96 223.97L37.6 223.95L38.24 223.92L38.88 223.9L39.52 223.87L40.16 223.84L40.8 223.8L41.44 223.77L42.07 223.73L42.71 223.69L43.35 223.65L43.99 223.6L44.63 223.55L45.27 223.5L45.91 223.44L46.55 223.38L47.19 223.31L47.83 223.24L48.46 223.17L49.1 223.09L49.74 223L50.38 222.91L51.02 222.82L51.66 222.71L52.3 222.6L52.94 222.48L53.58 222.36L54.22 222.22L54.85 222.08L55.49 221.92L56.13 221.76L56.77 221.59L57.41 221.4L58.05 221.2L58.69 220.99L59.33 220.77L59.97 220.53L60.61 220.28L61.24 220.02L61.88 219.73L62.52 219.43L63.16 219.11L63.8 218.78L64.44 218.42L65.08 218.05L65.72 217.65L66.36 217.23L67 216.79L67.63 216.33L68.27 215.84L68.91 215.33L69.55 214.8L70.19 214.24L70.83 213.65L71.47 213.04L72.11 212.4L72.75 211.74L73.39 211.05L74.02 210.34L74.66 209.6L75.3 208.84L75.94 208.06L76.58 207.25L77.22 206.42L77.86 205.57L78.5 204.7L79.14 203.81L79.78 202.91L80.42 201.99L81.05 201.06L81.69 200.12L82.33 199.18L82.97 198.22L83.61 197.27L84.25 196.31L84.89 195.35L85.53 194.4L86.17 193.45L86.81 192.52L87.44 191.59L88.08 190.67L88.72 189.77L89.36 188.88L90 188.01L90.64 187.16L91.28 186.33L91.92 185.53L92.56 184.74L93.2 183.98L93.83 183.24L94.47 182.53L95.11 181.84L95.75 181.18L96.39 180.55L97.03 179.94L97.67 179.35L98.31 178.79L98.95 178.26L99.59 177.75L100.22 177.26L100.86 176.8L101.5 176.36L102.14 175.95L102.78 175.55L103.42 175.17L104.06 174.82L104.7 174.48L105.34 174.17L105.98 173.87L106.61 173.58L107.25 173.32L107.89 173.07L108.53 172.83L109.17 172.61L109.81 172.4L110.45 172.2L111.09 172.02L111.73 171.84L112.37 171.68L113 171.53L113.64 171.38L114.28 171.25L114.92 171.12L115.56 171L116.2 170.89L116.84 170.79L117.48 170.69L118.12 170.6L118.76 170.52L119.39 170.44L120.03 170.36L120.67 170.29L121.31 170.23L121.95 170.17L122.59 170.11M22.5 224.08H28.7" stroke="#33439a" stroke-width="1.05" fill="none" stroke-linejoin="round"/>
<path d="M23 212.69V224.91M21.3 212.69h3.4M21.3 224.91h3.4M41.25 219.41V221.86M39.55 219.41h3.4M39.55 221.86h3.4M52.87 219.41V221.86M51.17 219.41h3.4M51.17 221.86h3.4M64.49 216.36V221.24M62.79 216.36h3.4M62.79 221.24h3.4M76.11 206.58V209.02M74.41 206.58h3.4M74.41 209.02h3.4M87.73 177.86V204.75M86.03 177.86h3.4M86.03 204.75h3.4M99.35 169.31V182.75M97.65 169.31h3.4M97.65 182.75h3.4M110.97 169.92V171.14M109.27 169.92h3.4M109.27 171.14h3.4M122.59 169.92V172.36M120.89 169.92h3.4M120.89 172.36h3.4" stroke="#33439a" stroke-width="0.85" fill="none"/>
<circle cx="23" cy="218.8" r="1.85" fill="#33439a"/>
<circle cx="41.25" cy="220.63" r="1.85" fill="#33439a"/>
<circle cx="52.87" cy="220.63" r="1.85" fill="#33439a"/>
<circle cx="64.49" cy="218.8" r="1.85" fill="#33439a"/>
<circle cx="76.11" cy="207.8" r="1.85" fill="#33439a"/>
<circle cx="87.73" cy="191.31" r="1.85" fill="#33439a"/>
<circle cx="99.35" cy="176.03" r="1.85" fill="#33439a"/>
<circle cx="110.97" cy="170.53" r="1.85" fill="#33439a"/>
<circle cx="122.59" cy="171.14" r="1.85" fill="#33439a"/>
<path d="M33.13 219.41L33.77 219.41L34.41 219.41L35.05 219.41L35.68 219.41L36.32 219.41L36.96 219.41L37.6 219.41L38.24 219.41L38.88 219.41L39.52 219.41L40.16 219.41L40.8 219.41L41.44 219.41L42.07 219.41L42.71 219.41L43.35 219.41L43.99 219.41L44.63 219.41L45.27 219.41L45.91 219.41L46.55 219.41L47.19 219.41L47.83 219.41L48.46 219.41L49.1 219.41L49.74 219.41L50.38 219.41L51.02 219.41L51.66 219.41L52.3 219.41L52.94 219.41L53.58 219.41L54.22 219.41L54.85 219.41L55.49 219.41L56.13 219.41L56.77 219.41L57.41 219.41L58.05 219.41L58.69 219.41L59.33 219.41L59.97 219.41L60.61 219.4L61.24 219.4L61.88 219.4L62.52 219.4L63.16 219.39L63.8 219.39L64.44 219.39L65.08 219.38L65.72 219.37L66.36 219.37L67 219.36L67.63 219.34L68.27 219.33L68.91 219.31L69.55 219.29L70.19 219.26L70.83 219.23L71.47 219.19L72.11 219.14L72.75 219.08L73.39 219L74.02 218.91L74.66 218.8L75.3 218.67L75.94 218.51L76.58 218.31L77.22 218.07L77.86 217.79L78.5 217.44L79.14 217.03L79.78 216.55L80.42 215.97L81.05 215.29L81.69 214.51L82.33 213.6L82.97 212.57L83.61 211.4L84.25 210.11L84.89 208.7L85.53 207.18L86.17 205.59L86.81 203.94L87.44 202.27L88.08 200.61L88.72 199L89.36 197.47L90 196.03L90.64 194.71L91.28 193.52L91.92 192.45L92.56 191.52L93.2 190.7L93.83 190L94.47 189.41L95.11 188.9L95.75 188.47L96.39 188.11L97.03 187.82L97.67 187.57L98.31 187.36L98.95 187.19L99.59 187.05L100.22 186.94L100.86 186.84L101.5 186.77L102.14 186.7L102.78 186.65L103.42 186.61L104.06 186.57L104.7 186.54L105.34 186.52L105.98 186.5L106.61 186.49L107.25 186.47L107.89 186.46L108.53 186.46L109.17 186.45L109.81 186.44L110.45 186.44L111.09 186.43L111.73 186.43L112.37 186.43L113 186.43L113.64 186.42L114.28 186.42L114.92 186.42L115.56 186.42L116.2 186.42L116.84 186.42L117.48 186.42L118.12 186.42L118.76 186.42L119.39 186.42L120.03 186.42L120.67 186.42L121.31 186.42L121.95 186.42L122.59 186.42M22.5 219.41H28.7" stroke="#38aa46" stroke-width="1.05" fill="none" stroke-linejoin="round"/>
<path d="M23 216.36V221.24M21.3 216.36h3.4M21.3 221.24h3.4M41.25 216.36V221.24M39.55 216.36h3.4M39.55 221.24h3.4M52.87 216.36V221.24M51.17 216.36h3.4M51.17 221.24h3.4M64.49 211.47V224.91M62.79 211.47h3.4M62.79 224.91h3.4M76.11 211.47V223.69M74.41 211.47h3.4M74.41 223.69h3.4M87.73 198.03V211.47M86.03 198.03h3.4M86.03 211.47h3.4M99.35 182.75V191.31M97.65 182.75h3.4M97.65 191.31h3.4M110.97 186.42V188.86M109.27 186.42h3.4M109.27 188.86h3.4M122.59 176.64V194.97M120.89 176.64h3.4M120.89 194.97h3.4" stroke="#38aa46" stroke-width="0.85" fill="none"/>
<rect x="21.25" y="217.05" width="3.5" height="3.5" fill="#38aa46"/>
<rect x="39.5" y="217.05" width="3.5" height="3.5" fill="#38aa46"/>
<rect x="51.12" y="217.05" width="3.5" height="3.5" fill="#38aa46"/>
<rect x="62.74" y="216.44" width="3.5" height="3.5" fill="#38aa46"/>
<rect x="74.36" y="215.83" width="3.5" height="3.5" fill="#38aa46"/>
<rect x="85.98" y="203" width="3.5" height="3.5" fill="#38aa46"/>
<rect x="97.6" y="185.28" width="3.5" height="3.5" fill="#38aa46"/>
<rect x="109.22" y="185.89" width="3.5" height="3.5" fill="#38aa46"/>
<rect x="120.84" y="184.06" width="3.5" height="3.5" fill="#38aa46"/>
<path d="M33.13 218.8L33.78 218.8L34.42 218.8L35.07 218.8L35.72 218.8L36.36 218.8L37.01 218.8L37.66 218.8L38.3 218.8L38.95 218.8L39.6 218.8L40.25 218.8L40.89 218.8L41.54 218.8L42.19 218.8L42.83 218.8L43.48 218.8L44.13 218.8L44.78 218.8L45.42 218.8L46.07 218.8L46.72 218.8L47.36 218.8L48.01 218.8L48.66 218.8L49.3 218.8L49.95 218.8L50.6 218.8L51.25 218.8L51.89 218.8L52.54 218.8L53.19 218.8L53.83 218.8L54.48 218.8L55.13 218.8L55.77 218.8L56.42 218.8L57.07 218.8L57.72 218.8L58.36 218.8L59.01 218.8L59.66 218.8L60.3 218.8L60.95 218.8L61.6 218.8L62.25 218.8L62.89 218.8L63.54 218.8L64.19 218.8L64.83 218.8L65.48 218.8L66.13 218.8L66.77 218.8L67.42 218.8L68.07 218.8L68.72 218.8L69.36 218.8L70.01 218.8L70.66 218.8L71.3 218.8L71.95 218.8L72.6 218.8L73.25 218.8L73.89 218.8L74.54 218.8L75.19 218.8L75.83 218.8L76.48 218.8L77.13 218.8L77.77 218.8L78.42 218.8L79.07 218.8L79.72 218.8L80.36 218.8L81.01 218.8L81.66 218.8L82.3 218.8L82.95 218.8L83.6 218.8L84.25 218.8L84.89 218.8L85.54 218.8L86.19 218.8L86.83 218.8L87.48 218.8L88.13 218.8L88.77 218.8L89.42 218.8L90.07 218.8L90.72 218.8L91.36 218.8L92.01 218.8L92.66 218.8L93.3 216.78L93.95 216.78L94.6 216.78L95.25 216.78L95.89 216.78L96.54 216.78L97.19 216.78L97.83 216.78L98.48 216.78L99.13 216.78L99.77 216.78L100.42 216.78L101.07 216.78L101.72 216.78L102.36 216.78L103.01 216.78L103.66 216.78L104.3 216.78L104.95 216.78L105.6 216.78L106.25 216.78L106.89 216.78L107.54 216.78L108.19 216.78L108.83 216.78L109.48 216.78L110.13 216.78L110.77 216.78L111.42 216.78L112.07 216.78L112.72 216.78L113.36 216.78L114.01 216.78L114.66 216.78L115.3 216.78L115.95 216.78L116.6 216.78L117.25 216.78L117.89 216.78L118.54 216.78L119.19 216.78L119.83 216.78L120.48 216.78L121.13 216.78L121.77 216.78L122.42 216.78L123.07 216.78L123.72 216.78M22.5 218.8H28.7" stroke="#111" stroke-width="1.05" fill="none" stroke-linejoin="round"/>
<path d="M23 213.91V223.69M21.3 213.91h3.4M21.3 223.69h3.4M41.25 213.91V223.69M39.55 213.91h3.4M39.55 223.69h3.4M52.87 213.91V223.69M51.17 213.91h3.4M51.17 223.69h3.4M64.49 216.36V221.24M62.79 216.36h3.4M62.79 221.24h3.4M76.11 216.97V220.63M74.41 216.97h3.4M74.41 220.63h3.4M87.73 218.49V222.16M86.03 218.49h3.4M86.03 222.16h3.4M99.35 212.08V221.86M97.65 212.08h3.4M97.65 221.86h3.4M110.97 212.69V221.24M109.27 212.69h3.4M109.27 221.24h3.4M122.59 214.16V220.27M120.89 214.16h3.4M120.89 220.27h3.4" stroke="#111" stroke-width="0.85" fill="none"/>
<path d="M23 216.5L25.3 220.64H20.7Z" fill="#111"/>
<path d="M41.25 216.5L43.55 220.64H38.95Z" fill="#111"/>
<path d="M52.87 216.5L55.17 220.64H50.57Z" fill="#111"/>
<path d="M64.49 216.5L66.79 220.64H62.19Z" fill="#111"/>
<path d="M76.11 216.5L78.41 220.64H73.81Z" fill="#111"/>
<path d="M87.73 218.03L90.03 222.17H85.43Z" fill="#111"/>
<path d="M99.35 214.67L101.65 218.81H97.05Z" fill="#111"/>
<path d="M110.97 214.67L113.27 218.81H108.67Z" fill="#111"/>
<path d="M122.59 214.91L124.89 219.05H120.29Z" fill="#111"/>
<path d="M133.5 174.3H150.5" stroke="#111" stroke-width="0.9"/>
<path d="M142 172L144.3 176.14H139.7Z" fill="#111"/>
<text class="lg" x="155" y="176.2">24 h</text>
<path d="M133.5 187.6H150.5" stroke="#38aa46" stroke-width="0.9"/>
<rect x="140.25" y="185.85" width="3.5" height="3.5" fill="#38aa46"/>
<text class="lg" x="155" y="189.5">48 h</text>
<path d="M133.5 201.2H150.5" stroke="#33439a" stroke-width="0.9"/>
<circle cx="142" cy="201.2" r="1.85" fill="#33439a"/>
<text class="lg" x="155" y="203.1">72 h</text>
<g class="tk" text-anchor="end">
<text x="196.3" y="220.6">0</text>
<text x="196.3" y="208.38">20</text>
<text x="196.3" y="196.16">40</text>
<text x="196.3" y="183.94">60</text>
<text x="196.3" y="171.72">80</text>
<text x="196.3" y="159.5">100</text>
</g>
<g class="tk" text-anchor="end">
<text transform="translate(202.4 226.8) rotate(-45)">0</text>
<text transform="translate(217.1 226.8) rotate(-45)">0.001</text>
<text transform="translate(228.78 226.8) rotate(-45)">0.01</text>
<text transform="translate(240.46 226.8) rotate(-45)">0.1</text>
<text transform="translate(252.14 226.8) rotate(-45)">1</text>
<text transform="translate(263.82 226.8) rotate(-45)">10</text>
<text transform="translate(275.5 226.8) rotate(-45)">100</text>
<text transform="translate(287.18 226.8) rotate(-45)">1,000</text>
<text transform="translate(298.86 226.8) rotate(-45)">10,000</text>
<text transform="translate(310.54 226.8) rotate(-45)">100,000</text>
</g>
<text class="ti" text-anchor="middle" x="254.72" y="245.1">DLL3/CD3 ITE (ng/mL)</text>
<text class="ty" text-anchor="middle" transform="translate(182.7 187.8) rotate(-90)">% Lysis relative to control</text>
<text class="pl" x="177.2" y="139.2">E</text>
<path d="M210.13 220.02L210.77 220.02L211.41 220.02L212.05 220.02L212.68 220.02L213.32 220.02L213.96 220.02L214.6 220.02L215.24 220.02L215.88 220.02L216.52 220.02L217.16 220.02L217.8 220.02L218.44 220.02L219.07 220.02L219.71 220.02L220.35 220.02L220.99 220.02L221.63 220.02L222.27 220.02L222.91 220.02L223.55 220.02L224.19 220.02L224.83 220.02L225.46 220.02L226.1 220.02L226.74 220.02L227.38 220.02L228.02 220.02L228.66 220.02L229.3 220.02L229.94 220.02L230.58 220.01L231.22 220.01L231.85 220.01L232.49 220.01L233.13 220.01L233.77 220L234.41 220L235.05 220L235.69 219.99L236.33 219.99L236.97 219.98L237.61 219.97L238.24 219.96L238.88 219.95L239.52 219.94L240.16 219.93L240.8 219.91L241.44 219.89L242.08 219.86L242.72 219.83L243.36 219.8L244 219.75L244.63 219.7L245.27 219.65L245.91 219.58L246.55 219.49L247.19 219.4L247.83 219.28L248.47 219.14L249.11 218.98L249.75 218.79L250.39 218.57L251.02 218.31L251.66 218L252.3 217.64L252.94 217.22L253.58 216.73L254.22 216.16L254.86 215.5L255.5 214.75L256.14 213.87L256.78 212.88L257.42 211.75L258.05 210.49L258.69 209.07L259.33 207.5L259.97 205.79L260.61 203.93L261.25 201.94L261.89 199.83L262.53 197.64L263.17 195.37L263.81 193.08L264.44 190.79L265.08 188.53L265.72 186.34L266.36 184.24L267 182.25L267.64 180.4L268.28 178.69L268.92 177.13L269.56 175.73L270.2 174.46L270.83 173.34L271.47 172.36L272.11 171.49L272.75 170.74L273.39 170.08L274.03 169.52L274.67 169.03L275.31 168.61L275.95 168.26L276.59 167.95L277.22 167.69L277.86 167.47L278.5 167.28L279.14 167.12L279.78 166.99L280.42 166.88L281.06 166.78L281.7 166.7L282.34 166.63L282.98 166.57L283.61 166.52L284.25 166.48L284.89 166.44L285.53 166.41L286.17 166.39L286.81 166.37L287.45 166.35L288.09 166.33L288.73 166.32L289.37 166.31L290 166.3L290.64 166.29L291.28 166.29L291.92 166.28L292.56 166.28L293.2 166.27L293.84 166.27L294.48 166.27L295.12 166.27L295.76 166.26L296.39 166.26L297.03 166.26L297.67 166.26L298.31 166.26L298.95 166.26L299.59 166.26M199.5 220.02H205.7" stroke="#8a8a8a" stroke-width="1.05" fill="none" stroke-linejoin="round"/>
<path d="M210.13 222.47L210.77 222.47L211.41 222.47L212.05 222.47L212.68 222.47L213.32 222.47L213.96 222.47L214.6 222.47L215.24 222.47L215.88 222.47L216.52 222.47L217.16 222.47L217.8 222.47L218.44 222.47L219.07 222.47L219.71 222.46L220.35 222.46L220.99 222.46L221.63 222.46L222.27 222.46L222.91 222.46L223.55 222.46L224.19 222.46L224.83 222.46L225.46 222.46L226.1 222.46L226.74 222.46L227.38 222.46L228.02 222.46L228.66 222.46L229.3 222.45L229.94 222.45L230.58 222.45L231.22 222.45L231.85 222.44L232.49 222.44L233.13 222.43L233.77 222.43L234.41 222.42L235.05 222.41L235.69 222.4L236.33 222.39L236.97 222.38L237.61 222.37L238.24 222.35L238.88 222.33L239.52 222.3L240.16 222.28L240.8 222.24L241.44 222.2L242.08 222.16L242.72 222.11L243.36 222.04L244 221.97L244.63 221.89L245.27 221.79L245.91 221.67L246.55 221.54L247.19 221.38L247.83 221.2L248.47 220.99L249.11 220.74L249.75 220.45L250.39 220.12L251.02 219.74L251.66 219.29L252.3 218.78L252.94 218.2L253.58 217.53L254.22 216.77L254.86 215.91L255.5 214.95L256.14 213.86L256.78 212.66L257.42 211.33L258.05 209.88L258.69 208.3L259.33 206.61L259.97 204.81L260.61 202.92L261.25 200.95L261.89 198.94L262.53 196.9L263.17 194.85L263.81 192.83L264.44 190.86L265.08 188.97L265.72 187.16L266.36 185.45L267 183.87L267.64 182.4L268.28 181.06L268.92 179.85L269.56 178.75L270.2 177.78L270.83 176.91L271.47 176.14L272.11 175.47L272.75 174.87L273.39 174.36L274.03 173.91L274.67 173.52L275.31 173.18L275.95 172.89L276.59 172.64L277.22 172.43L277.86 172.24L278.5 172.08L279.14 171.95L279.78 171.83L280.42 171.73L281.06 171.64L281.7 171.57L282.34 171.51L282.98 171.45L283.61 171.41L284.25 171.37L284.89 171.34L285.53 171.31L286.17 171.28L286.81 171.26L287.45 171.24L288.09 171.23L288.73 171.22L289.37 171.21L290 171.2L290.64 171.19L291.28 171.18L291.92 171.18L292.56 171.17L293.2 171.17L293.84 171.16L294.48 171.16L295.12 171.16L295.76 171.15L296.39 171.15L297.03 171.15L297.67 171.15L298.31 171.15L298.95 171.15L299.59 171.15M199.5 222.47H205.7" stroke="#dd1a33" stroke-width="1.15" fill="none" stroke-linejoin="round"/>
<path d="M200 221.24V223.69M198.3 221.24h3.4M198.3 223.69h3.4M264.73 179.7V196.8M263.03 179.7h3.4M263.03 196.8h3.4M276.35 168.7V179.7M274.65 168.7h3.4M274.65 179.7h3.4M299.59 156.72V176.27M297.89 156.72h3.4M297.89 176.27h3.4" stroke="#dd1a33" stroke-width="0.85" fill="none"/>
<rect x="198.25" y="220.72" width="3.5" height="3.5" fill="#dd1a33"/>
<rect x="216.5" y="220.72" width="3.5" height="3.5" fill="#dd1a33"/>
<rect x="228.12" y="221.33" width="3.5" height="3.5" fill="#dd1a33"/>
<rect x="239.74" y="220.11" width="3.5" height="3.5" fill="#dd1a33"/>
<rect x="251.36" y="214.91" width="3.5" height="3.5" fill="#dd1a33"/>
<rect x="262.98" y="186.5" width="3.5" height="3.5" fill="#dd1a33"/>
<rect x="274.6" y="172.45" width="3.5" height="3.5" fill="#dd1a33"/>
<rect x="286.22" y="172.26" width="3.5" height="3.5" fill="#dd1a33"/>
<rect x="297.84" y="164.75" width="3.5" height="3.5" fill="#dd1a33"/>
<path d="M200 217.58V222.47M198.3 217.58h3.4M198.3 222.47h3.4M218.25 218.19V221.86M216.55 218.19h3.4M216.55 221.86h3.4M229.87 218.19V221.86M228.17 218.19h3.4M228.17 221.86h3.4M241.49 219.41V221.86M239.79 219.41h3.4M239.79 221.86h3.4M253.11 216.97V219.41M251.41 216.97h3.4M251.41 219.41h3.4M264.73 182.14V193.14M263.03 182.14h3.4M263.03 193.14h3.4M276.35 169.31V177.86M274.65 169.31h3.4M274.65 177.86h3.4M287.97 159.53V181.53M286.27 159.53h3.4M286.27 181.53h3.4M299.59 154.03V160.75M297.89 154.03h3.4M297.89 160.75h3.4" stroke="#8a8a8a" stroke-width="0.85" fill="none"/>
<path d="M200 218.42L201.6 220.02L200 221.62L198.4 220.02Z" fill="#8a8a8a"/>
<path d="M218.25 218.42L219.85 220.02L218.25 221.62L216.65 220.02Z" fill="#8a8a8a"/>
<path d="M229.87 218.42L231.47 220.02L229.87 221.62L228.27 220.02Z" fill="#8a8a8a"/>
<path d="M241.49 219.03L243.09 220.63L241.49 222.23L239.89 220.63Z" fill="#8a8a8a"/>
<path d="M253.11 216.59L254.71 218.19L253.11 219.79L251.51 218.19Z" fill="#8a8a8a"/>
<path d="M264.73 186.04L266.33 187.64L264.73 189.24L263.13 187.64Z" fill="#8a8a8a"/>
<path d="M276.35 171.99L277.95 173.59L276.35 175.19L274.75 173.59Z" fill="#8a8a8a"/>
<path d="M287.97 168.93L289.57 170.53L287.97 172.13L286.37 170.53Z" fill="#8a8a8a"/>
<path d="M299.59 155.79L301.19 157.39L299.59 158.99L297.99 157.39Z" fill="#8a8a8a"/>
<path d="M206.6 255.4H224.3" stroke="#8a8a8a" stroke-width="0.9"/>
<path d="M215.45 253.56L217.29 255.4L215.45 257.24L213.61 255.4Z" fill="#8a8a8a"/>
<text class="lg2" x="228.4" y="257.55">CD4<tspan dy="-2.2" font-size="4">+</tspan><tspan dy="2.2"> T-cells</tspan></text>
<path d="M206.6 267.4H224.3" stroke="#dd1a33" stroke-width="0.9"/>
<rect x="213.84" y="265.79" width="3.22" height="3.22" fill="#dd1a33"/>
<text class="lg2" x="228.4" y="269.55">CD4<tspan dy="-2.2" font-size="4">+</tspan><tspan dy="2.2"> Central memory T-cells</tspan></text>
<g class="tk" text-anchor="end">
<text x="374" y="220.6">0</text>
<text x="374" y="208.38">20</text>
<text x="374" y="196.16">40</text>
<text x="374" y="183.94">60</text>
<text x="374" y="171.72">80</text>
<text x="374" y="159.5">100</text>
</g>
<g class="tk" text-anchor="end">
<text transform="translate(380.1 226.8) rotate(-45)">0</text>
<text transform="translate(394.8 226.8) rotate(-45)">0.001</text>
<text transform="translate(406.48 226.8) rotate(-45)">0.01</text>
<text transform="translate(418.16 226.8) rotate(-45)">0.1</text>
<text transform="translate(429.84 226.8) rotate(-45)">1</text>
<text transform="translate(441.52 226.8) rotate(-45)">10</text>
<text transform="translate(453.2 226.8) rotate(-45)">100</text>
<text transform="translate(464.88 226.8) rotate(-45)">1,000</text>
<text transform="translate(476.56 226.8) rotate(-45)">10,000</text>
<text transform="translate(488.24 226.8) rotate(-45)">100,000</text>
</g>
<text class="ti" text-anchor="middle" x="432.42" y="245.1">DLL3/CD3 ITE (ng/mL)</text>
<text class="ty" text-anchor="middle" transform="translate(360.4 187.8) rotate(-90)">% Lysis relative to control</text>
<text class="pl" x="356.2" y="139.2">F</text>
<path d="M387.83 220.63L388.47 220.63L389.11 220.63L389.75 220.63L390.38 220.63L391.02 220.63L391.66 220.63L392.3 220.63L392.94 220.63L393.58 220.63L394.22 220.63L394.86 220.63L395.5 220.63L396.14 220.63L396.77 220.63L397.41 220.63L398.05 220.63L398.69 220.63L399.33 220.63L399.97 220.63L400.61 220.63L401.25 220.63L401.89 220.63L402.53 220.63L403.16 220.63L403.8 220.63L404.44 220.63L405.08 220.63L405.72 220.63L406.36 220.63L407 220.63L407.64 220.63L408.28 220.63L408.92 220.63L409.55 220.63L410.19 220.63L410.83 220.63L411.47 220.63L412.11 220.63L412.75 220.63L413.39 220.63L414.03 220.63L414.67 220.63L415.31 220.63L415.94 220.63L416.58 220.63L417.22 220.62L417.86 220.62L418.5 220.62L419.14 220.62L419.78 220.61L420.42 220.6L421.06 220.6L421.7 220.58L422.33 220.57L422.97 220.55L423.61 220.53L424.25 220.5L424.89 220.46L425.53 220.41L426.17 220.35L426.81 220.27L427.45 220.16L428.09 220.03L428.72 219.86L429.36 219.64L430 219.35L430.64 219L431.28 218.54L431.92 217.96L432.56 217.24L433.2 216.33L433.84 215.2L434.48 213.81L435.12 212.12L435.75 210.1L436.39 207.71L437.03 204.95L437.67 201.84L438.31 198.41L438.95 194.74L439.59 190.95L440.23 187.13L440.87 183.41L441.51 179.91L442.14 176.7L442.78 173.83L443.42 171.34L444.06 169.21L444.7 167.42L445.34 165.95L445.98 164.75L446.62 163.78L447.26 163.01L447.9 162.39L448.53 161.9L449.17 161.52L449.81 161.22L450.45 160.98L451.09 160.79L451.73 160.65L452.37 160.54L453.01 160.45L453.65 160.38L454.29 160.33L454.92 160.29L455.56 160.26L456.2 160.23L456.84 160.21L457.48 160.2L458.12 160.18L458.76 160.18L459.4 160.17L460.04 160.16L460.68 160.16L461.31 160.16L461.95 160.15L462.59 160.15L463.23 160.15L463.87 160.15L464.51 160.15L465.15 160.15L465.79 160.15L466.43 160.15L467.07 160.15L467.7 160.14L468.34 160.14L468.98 160.14L469.62 160.14L470.26 160.14L470.9 160.14L471.54 160.14L472.18 160.14L472.82 160.14L473.46 160.14L474.09 160.14L474.73 160.14L475.37 160.14L476.01 160.14L476.65 160.14L477.29 160.14M377.2 220.63H383.4" stroke="#8a8a8a" stroke-width="1.05" fill="none" stroke-linejoin="round"/>
<path d="M377.7 216.36V221.24M376 216.36h3.4M376 221.24h3.4M395.95 218.8V221.24M394.25 218.8h3.4M394.25 221.24h3.4M407.57 218.8V222.47M405.87 218.8h3.4M405.87 222.47h3.4M419.19 220.02V222.47M417.49 220.02h3.4M417.49 222.47h3.4M430.81 217.58V222.47M429.11 217.58h3.4M429.11 222.47h3.4M442.43 174.2V176.64M440.73 174.2h3.4M440.73 176.64h3.4M454.05 163.81V168.7M452.35 163.81h3.4M452.35 168.7h3.4M465.67 154.03V171.14M463.97 154.03h3.4M463.97 171.14h3.4" stroke="#8a8a8a" stroke-width="0.85" fill="none"/>
<path d="M377.7 216.8L379.7 218.8L377.7 220.8L375.7 218.8Z" fill="#8a8a8a"/>
<path d="M395.95 218.02L397.95 220.02L395.95 222.02L393.95 220.02Z" fill="#8a8a8a"/>
<path d="M407.57 218.63L409.57 220.63L407.57 222.63L405.57 220.63Z" fill="#8a8a8a"/>
<path d="M419.19 219.24L421.19 221.24L419.19 223.24L417.19 221.24Z" fill="#8a8a8a"/>
<path d="M430.81 218.02L432.81 220.02L430.81 222.02L428.81 220.02Z" fill="#8a8a8a"/>
<path d="M442.43 173.42L444.43 175.42L442.43 177.42L440.43 175.42Z" fill="#8a8a8a"/>
<path d="M454.05 164.25L456.05 166.25L454.05 168.25L452.05 166.25Z" fill="#8a8a8a"/>
<path d="M465.67 160.59L467.67 162.59L465.67 164.59L463.67 162.59Z" fill="#8a8a8a"/>
<path d="M387.83 220.63L388.47 220.63L389.11 220.63L389.75 220.63L390.38 220.63L391.02 220.63L391.66 220.63L392.3 220.63L392.94 220.63L393.58 220.63L394.22 220.63L394.86 220.63L395.5 220.63L396.14 220.63L396.77 220.63L397.41 220.63L398.05 220.63L398.69 220.63L399.33 220.63L399.97 220.63L400.61 220.63L401.25 220.63L401.89 220.63L402.53 220.63L403.16 220.63L403.8 220.63L404.44 220.63L405.08 220.63L405.72 220.63L406.36 220.63L407 220.63L407.64 220.63L408.28 220.63L408.92 220.63L409.55 220.63L410.19 220.63L410.83 220.63L411.47 220.63L412.11 220.63L412.75 220.63L413.39 220.63L414.03 220.63L414.67 220.63L415.31 220.63L415.94 220.63L416.58 220.63L417.22 220.63L417.86 220.63L418.5 220.63L419.14 220.63L419.78 220.63L420.42 220.61L421.06 220.59L421.7 220.56L422.33 220.52L422.97 220.48L423.61 220.43L424.25 220.37L424.89 220.31L425.53 220.23L426.17 220.11L426.81 219.96L427.45 219.78L428.09 219.58L428.72 219.34L429.36 219.08L430 218.79L430.64 218.4L431.28 217.85L431.92 217.2L432.56 216.46L433.2 215.58L433.84 214.57L434.48 213.44L435.12 212.22L435.75 210.91L436.39 209.53L437.03 207.86L437.67 205.92L438.31 203.83L438.95 201.67L439.59 199.55L440.23 197.57L440.87 195.83L441.51 194.46L442.14 193.4L442.78 191.95L443.42 189.95L444.06 187.64L444.7 185.26L445.34 183.04L445.98 181.06L446.62 179.09L447.26 177.16L447.9 175.28L448.53 173.51L449.17 171.86L449.81 170.38L450.45 169.06L451.09 167.85L451.73 166.73L452.37 165.68L453.01 164.7L453.65 163.77L454.29 162.87L454.92 161.98L455.56 161.1L456.2 160.25L456.84 159.42L457.48 158.65L458.12 157.92L458.76 157.27L459.4 156.7L460.04 156.22L460.68 155.8L461.31 155.4L461.95 155.03L462.59 154.7L463.23 154.4L463.87 154.14L464.51 153.93L465.15 153.76L465.79 153.61L466.43 153.47L467.07 153.34L467.7 153.22L468.34 153.12L468.98 153.03L469.62 152.95L470.26 152.88L470.9 152.83L471.54 152.79L472.18 152.76L472.82 152.73L473.46 152.7L474.09 152.67L474.73 152.64L475.37 152.62L476.01 152.59L476.65 152.57L477.29 152.55M377.2 220.63H383.4" stroke="#dc1f73" stroke-width="1.2" fill="none" stroke-linejoin="round"/>
<path d="M377.7 217.58V220.02M376 217.58h3.4M376 220.02h3.4M395.95 218.19V220.63M394.25 218.19h3.4M394.25 220.63h3.4M407.57 217.58V220.02M405.87 217.58h3.4M405.87 220.02h3.4M419.19 219.41V221.86M417.49 219.41h3.4M417.49 221.86h3.4M430.81 217.58V220.02M429.11 217.58h3.4M429.11 220.02h3.4M442.43 191.31V194.97M440.73 191.31h3.4M440.73 194.97h3.4M454.05 162.59V167.48M452.35 162.59h3.4M452.35 167.48h3.4M465.67 152.81V157.7M463.97 152.81h3.4M463.97 157.7h3.4" stroke="#dc1f73" stroke-width="0.85" fill="none"/>
<rect x="375.95" y="217.05" width="3.5" height="3.5" fill="#dc1f73"/>
<rect x="394.2" y="217.66" width="3.5" height="3.5" fill="#dc1f73"/>
<rect x="405.82" y="217.05" width="3.5" height="3.5" fill="#dc1f73"/>
<rect x="417.44" y="218.88" width="3.5" height="3.5" fill="#dc1f73"/>
<rect x="429.06" y="217.05" width="3.5" height="3.5" fill="#dc1f73"/>
<rect x="440.68" y="191.39" width="3.5" height="3.5" fill="#dc1f73"/>
<rect x="452.3" y="163.28" width="3.5" height="3.5" fill="#dc1f73"/>
<rect x="463.92" y="153.51" width="3.5" height="3.5" fill="#dc1f73"/>
<path d="M385 255.8H401.6" stroke="#8a8a8a" stroke-width="0.9"/>
<path d="M393.3 253.96L395.14 255.8L393.3 257.64L391.46 255.8Z" fill="#8a8a8a"/>
<text class="lg2" x="406.6" y="257.95">CD4<tspan dy="-2.2" font-size="4">+</tspan><tspan dy="2.2"> T-cells</tspan></text>
<path d="M385 267.9H401.6" stroke="#dc1f73" stroke-width="0.9"/>
<rect x="391.69" y="266.29" width="3.22" height="3.22" fill="#dc1f73"/>
<text class="lg2" x="406.6" y="270.05">CD4<tspan dy="-2.2" font-size="4">+</tspan><tspan dy="2.2"> Effector memory T-cells</tspan></text>
<g class="tk" text-anchor="end">
<text x="19.3" y="373">0</text>
<text x="19.3" y="360.8">20</text>
<text x="19.3" y="348.6">40</text>
<text x="19.3" y="336.4">60</text>
<text x="19.3" y="324.2">80</text>
<text x="19.3" y="312">100</text>
</g>
<g class="tk" text-anchor="end">
<text transform="translate(25.4 379.2) rotate(-45)">0</text>
<text transform="translate(40.1 379.2) rotate(-45)">0.001</text>
<text transform="translate(51.78 379.2) rotate(-45)">0.01</text>
<text transform="translate(63.46 379.2) rotate(-45)">0.1</text>
<text transform="translate(75.14 379.2) rotate(-45)">1</text>
<text transform="translate(86.82 379.2) rotate(-45)">10</text>
<text transform="translate(98.5 379.2) rotate(-45)">100</text>
<text transform="translate(110.18 379.2) rotate(-45)">1,000</text>
<text transform="translate(121.86 379.2) rotate(-45)">10,000</text>
<text transform="translate(133.54 379.2) rotate(-45)">100,000</text>
</g>
<text class="ti" text-anchor="middle" x="77.72" y="397.5">DLL3/CD3 ITE (ng/mL)</text>
<text class="ty" text-anchor="middle" transform="translate(5.7 340.2) rotate(-90)">% Lysis relative to control</text>
<text class="pl" x="3" y="292.2">G</text>
<path d="M33.13 371.81L33.77 371.81L34.41 371.81L35.05 371.81L35.7 371.81L36.34 371.81L36.98 371.81L37.62 371.81L38.26 371.81L38.9 371.81L39.55 371.81L40.19 371.81L40.83 371.81L41.47 371.81L42.11 371.81L42.75 371.81L43.4 371.81L44.04 371.81L44.68 371.81L45.32 371.81L45.96 371.81L46.61 371.81L47.25 371.81L47.89 371.81L48.53 371.81L49.17 371.81L49.81 371.81L50.46 371.81L51.1 371.81L51.74 371.81L52.38 371.81L53.02 371.81L53.67 371.81L54.31 371.81L54.95 371.81L55.59 371.81L56.23 371.81L56.87 371.81L57.52 371.81L58.16 371.81L58.8 371.81L59.44 371.81L60.08 371.81L60.72 371.81L61.37 371.81L62.01 371.81L62.65 371.81L63.29 371.81L63.93 371.81L64.58 371.81L65.22 371.8L65.86 371.78L66.5 371.76L67.14 371.72L67.78 371.67L68.43 371.61L69.07 371.54L69.71 371.46L70.35 371.38L70.99 371.29L71.64 371.18L72.28 371.08L72.92 370.96L73.56 370.84L74.2 370.71L74.84 370.57L75.49 370.43L76.13 370.28L76.77 370.1L77.41 369.87L78.05 369.58L78.69 369.23L79.34 368.83L79.98 368.38L80.62 367.87L81.26 367.3L81.9 366.66L82.55 365.69L83.19 364.44L83.83 362.99L84.47 361.45L85.11 359.9L85.75 358.25L86.4 356.44L87.04 354.53L87.68 352.58L88.32 350.64L88.96 348.66L89.61 346.64L90.25 344.58L90.89 342.5L91.53 340.4L92.17 338.27L92.81 336.1L93.46 333.92L94.1 331.75L94.74 329.6L95.38 327.44L96.02 325.19L96.67 323L97.31 321.07L97.95 319.49L98.59 318.08L99.23 316.85L99.87 315.78L100.52 314.81L101.16 313.93L101.8 313.16L102.44 312.55L103.08 312.05L103.72 311.59L104.37 311.16L105.01 310.78L105.65 310.44L106.29 310.16L106.93 309.93L107.58 309.75L108.22 309.62L108.86 309.49L109.5 309.38L110.14 309.28L110.78 309.19L111.43 309.1L112.07 309.03L112.71 308.96L113.35 308.89L113.99 308.83L114.64 308.77L115.28 308.71L115.92 308.65L116.56 308.6L117.2 308.54L117.84 308.48L118.49 308.43L119.13 308.38L119.77 308.33L120.41 308.28L121.05 308.24L121.69 308.2L122.34 308.16L122.98 308.12M22.5 371.81H28.7" stroke="#222" stroke-width="1.05" fill="none" stroke-linejoin="round"/>
<circle cx="23" cy="371.2" r="1.38" fill="none" stroke="#222" stroke-width="0.85"/>
<circle cx="41.25" cy="371.2" r="1.38" fill="none" stroke="#222" stroke-width="0.85"/>
<circle cx="52.87" cy="371.2" r="1.38" fill="none" stroke="#222" stroke-width="0.85"/>
<circle cx="64.49" cy="371.2" r="1.38" fill="none" stroke="#222" stroke-width="0.85"/>
<circle cx="76.11" cy="369.98" r="1.38" fill="none" stroke="#222" stroke-width="0.85"/>
<circle cx="87.73" cy="351.68" r="1.38" fill="none" stroke="#222" stroke-width="0.85"/>
<circle cx="99.35" cy="315.69" r="1.38" fill="none" stroke="#222" stroke-width="0.85"/>
<circle cx="110.97" cy="313.25" r="1.38" fill="none" stroke="#222" stroke-width="0.85"/>
<circle cx="122.59" cy="304.71" r="1.38" fill="none" stroke="#222" stroke-width="0.85"/>
<path d="M33.13 371.81L33.77 371.81L34.41 371.81L35.05 371.81L35.7 371.81L36.34 371.81L36.98 371.81L37.62 371.81L38.26 371.81L38.9 371.81L39.55 371.81L40.19 371.81L40.83 371.81L41.47 371.81L42.11 371.81L42.75 371.81L43.4 371.81L44.04 371.81L44.68 371.81L45.32 371.81L45.96 371.81L46.61 371.81L47.25 371.81L47.89 371.81L48.53 371.81L49.17 371.81L49.81 371.81L50.46 371.81L51.1 371.81L51.74 371.81L52.38 371.81L53.02 371.81L53.67 371.81L54.31 371.81L54.95 371.81L55.59 371.81L56.23 371.81L56.87 371.81L57.52 371.81L58.16 371.81L58.8 371.81L59.44 371.81L60.08 371.81L60.72 371.81L61.37 371.81L62.01 371.81L62.65 371.81L63.29 371.81L63.93 371.81L64.58 371.81L65.22 371.8L65.86 371.77L66.5 371.74L67.14 371.68L67.78 371.62L68.43 371.54L69.07 371.45L69.71 371.35L70.35 371.24L70.99 371.13L71.64 371L72.28 370.87L72.92 370.73L73.56 370.59L74.2 370.44L74.84 370.29L75.49 370.13L76.13 369.98L76.77 369.8L77.41 369.58L78.05 369.34L78.69 369.07L79.34 368.77L79.98 368.45L80.62 368.11L81.26 367.76L81.9 367.4L82.55 366.99L83.19 366.55L83.83 366.07L84.47 365.56L85.11 365.02L85.75 364.46L86.4 363.89L87.04 363.3L87.68 362.71L88.32 362.1L88.96 361.47L89.61 360.81L90.25 360.13L90.89 359.42L91.53 358.69L92.17 357.93L92.81 357.14L93.46 356.32L94.1 355.43L94.74 354.47L95.38 353.47L96.02 352.48L96.67 351.52L97.31 350.62L97.95 349.75L98.59 348.89L99.23 348.04L99.87 347.2L100.52 346.36L101.16 345.52L101.8 344.67L102.44 343.81L103.08 342.92L103.72 342.02L104.37 341.11L105.01 340.2L105.65 339.28L106.29 338.37L106.93 337.47L107.58 336.59L108.22 335.72L108.86 334.89L109.5 334.06L110.14 333.25L110.78 332.45L111.43 331.66L112.07 330.89L112.71 330.12L113.35 329.37L113.99 328.64L114.64 327.92L115.28 327.22L115.92 326.53L116.56 325.86L117.2 325.2L117.84 324.55L118.49 323.92L119.13 323.32L119.77 322.73L120.41 322.15L121.05 321.57L121.69 321.02L122.34 320.51L122.98 320.08M22.5 371.81H28.7" stroke="#3b3b98" stroke-width="1.05" fill="none" stroke-linejoin="round"/>
<rect x="21.55" y="369.75" width="2.9" height="2.9" fill="none" stroke="#3b3b98" stroke-width="0.85"/>
<rect x="39.8" y="368.53" width="2.9" height="2.9" fill="none" stroke="#3b3b98" stroke-width="0.85"/>
<rect x="51.42" y="369.75" width="2.9" height="2.9" fill="none" stroke="#3b3b98" stroke-width="0.85"/>
<rect x="63.04" y="370.97" width="2.9" height="2.9" fill="none" stroke="#3b3b98" stroke-width="0.85"/>
<rect x="74.66" y="375.24" width="2.9" height="2.9" fill="none" stroke="#3b3b98" stroke-width="0.85"/>
<rect x="86.28" y="356.33" width="2.9" height="2.9" fill="none" stroke="#3b3b98" stroke-width="0.85"/>
<rect x="97.9" y="342.3" width="2.9" height="2.9" fill="none" stroke="#3b3b98" stroke-width="0.85"/>
<rect x="109.52" y="336.2" width="2.9" height="2.9" fill="none" stroke="#3b3b98" stroke-width="0.85"/>
<rect x="121.14" y="316.68" width="2.9" height="2.9" fill="none" stroke="#3b3b98" stroke-width="0.85"/>
<path d="M30.6 408.4H47" stroke="#222" stroke-width="0.9"/>
<circle cx="38.8" cy="408.4" r="1.27" fill="none" stroke="#222" stroke-width="0.85"/>
<text class="lg2" x="52.2" y="410.55">CD8<tspan dy="-2.2" font-size="4">+</tspan><tspan dy="2.2"> T-cells</tspan></text>
<path d="M30.6 420.4H47" stroke="#3b3b98" stroke-width="0.9"/>
<rect x="37.47" y="419.07" width="2.67" height="2.67" fill="none" stroke="#3b3b98" stroke-width="0.85"/>
<text class="lg2" x="52.2" y="422.55">CD8<tspan dy="-2.2" font-size="4">+</tspan><tspan dy="2.2"> Memory T-cells</tspan></text>
<g class="tk" text-anchor="end">
<text x="194.9" y="373">0</text>
<text x="194.9" y="360.8">20</text>
<text x="194.9" y="348.6">40</text>
<text x="194.9" y="336.4">60</text>
<text x="194.9" y="324.2">80</text>
<text x="194.9" y="312">100</text>
</g>
<g class="tk" text-anchor="end">
<text transform="translate(201 379.2) rotate(-45)">0</text>
<text transform="translate(215.7 379.2) rotate(-45)">0.001</text>
<text transform="translate(227.38 379.2) rotate(-45)">0.01</text>
<text transform="translate(239.06 379.2) rotate(-45)">0.1</text>
<text transform="translate(250.74 379.2) rotate(-45)">1</text>
<text transform="translate(262.42 379.2) rotate(-45)">10</text>
<text transform="translate(274.1 379.2) rotate(-45)">100</text>
<text transform="translate(285.78 379.2) rotate(-45)">1,000</text>
<text transform="translate(297.46 379.2) rotate(-45)">10,000</text>
<text transform="translate(309.14 379.2) rotate(-45)">100,000</text>
</g>
<text class="ti" text-anchor="middle" x="253.32" y="397.5">DLL3/CD3 ITE (ng/mL)</text>
<text class="ty" text-anchor="middle" transform="translate(181.3 340.2) rotate(-90)">% Lysis relative to control</text>
<text class="pl" x="177.2" y="292.3">H</text>
<path d="M208.73 371.81L209.37 371.81L210.01 371.81L210.65 371.81L211.3 371.81L211.94 371.81L212.58 371.81L213.22 371.81L213.86 371.81L214.5 371.81L215.15 371.81L215.79 371.81L216.43 371.81L217.07 371.81L217.71 371.81L218.35 371.81L219 371.81L219.64 371.81L220.28 371.81L220.92 371.81L221.56 371.81L222.21 371.81L222.85 371.81L223.49 371.81L224.13 371.81L224.77 371.81L225.41 371.81L226.06 371.81L226.7 371.81L227.34 371.81L227.98 371.8L228.62 371.8L229.27 371.8L229.91 371.8L230.55 371.8L231.19 371.79L231.83 371.79L232.47 371.79L233.12 371.78L233.76 371.78L234.4 371.77L235.04 371.76L235.68 371.75L236.32 371.74L236.97 371.72L237.61 371.7L238.25 371.68L238.89 371.66L239.53 371.62L240.18 371.58L240.82 371.54L241.46 371.48L242.1 371.41L242.74 371.33L243.38 371.23L244.03 371.11L244.67 370.96L245.31 370.79L245.95 370.58L246.59 370.33L247.24 370.03L247.88 369.67L248.52 369.24L249.16 368.73L249.8 368.13L250.44 367.42L251.09 366.58L251.73 365.61L252.37 364.49L253.01 363.2L253.65 361.72L254.29 360.07L254.94 358.23L255.58 356.2L256.22 354.01L256.86 351.67L257.5 349.22L258.15 346.69L258.79 344.14L259.43 341.59L260.07 339.11L260.71 336.73L261.35 334.48L262 332.4L262.64 330.49L263.28 328.77L263.92 327.24L264.56 325.88L265.21 324.7L265.85 323.68L266.49 322.8L267.13 322.05L267.77 321.41L268.41 320.87L269.06 320.41L269.7 320.03L270.34 319.71L270.98 319.44L271.62 319.22L272.27 319.03L272.91 318.88L273.55 318.75L274.19 318.64L274.83 318.55L275.47 318.48L276.12 318.42L276.76 318.37L277.4 318.33L278.04 318.29L278.68 318.27L279.32 318.24L279.97 318.22L280.61 318.21L281.25 318.19L281.89 318.18L282.53 318.17L283.18 318.17L283.82 318.16L284.46 318.15L285.1 318.15L285.74 318.15L286.38 318.14L287.03 318.14L287.67 318.14L288.31 318.14L288.95 318.14L289.59 318.14L290.24 318.13L290.88 318.13L291.52 318.13L292.16 318.13L292.8 318.13L293.44 318.13L294.09 318.13L294.73 318.13L295.37 318.13L296.01 318.13L296.65 318.13L297.29 318.13L297.94 318.13L298.58 318.13M198.1 371.81H204.3" stroke="#222" stroke-width="1.05" fill="none" stroke-linejoin="round"/>
<path d="M198.6 369.37V373.03M196.9 369.37h3.4M196.9 373.03h3.4M216.85 367.54V374.86M215.15 367.54h3.4M215.15 374.86h3.4M251.71 364.49V366.93M250.01 364.49h3.4M250.01 366.93h3.4M298.19 304.71V319.35M296.49 304.71h3.4M296.49 319.35h3.4" stroke="#222" stroke-width="0.85" fill="none"/>
<circle cx="198.6" cy="371.2" r="1.38" fill="none" stroke="#222" stroke-width="0.85"/>
<circle cx="216.85" cy="371.2" r="1.38" fill="none" stroke="#222" stroke-width="0.85"/>
<circle cx="228.47" cy="377.6" r="1.38" fill="none" stroke="#222" stroke-width="0.85"/>
<circle cx="240.09" cy="378.21" r="1.38" fill="none" stroke="#222" stroke-width="0.85"/>
<circle cx="251.71" cy="365.71" r="1.38" fill="none" stroke="#222" stroke-width="0.85"/>
<circle cx="263.33" cy="328.5" r="1.38" fill="none" stroke="#222" stroke-width="0.85"/>
<circle cx="274.95" cy="319.35" r="1.38" fill="none" stroke="#222" stroke-width="0.85"/>
<circle cx="286.57" cy="322.4" r="1.38" fill="none" stroke="#222" stroke-width="0.85"/>
<circle cx="298.19" cy="312.03" r="1.38" fill="none" stroke="#222" stroke-width="0.85"/>
<path d="M208.73 374.25L209.37 374.25L210.01 374.25L210.65 374.25L211.3 374.25L211.94 374.25L212.58 374.25L213.22 374.25L213.86 374.25L214.5 374.25L215.15 374.25L215.79 374.25L216.43 374.25L217.07 374.25L217.71 374.25L218.35 374.25L219 374.25L219.64 374.25L220.28 374.25L220.92 374.25L221.56 374.25L222.21 374.25L222.85 374.24L223.49 374.24L224.13 374.24L224.77 374.24L225.41 374.24L226.06 374.24L226.7 374.24L227.34 374.24L227.98 374.23L228.62 374.23L229.27 374.23L229.91 374.23L230.55 374.22L231.19 374.22L231.83 374.22L232.47 374.21L233.12 374.21L233.76 374.2L234.4 374.19L235.04 374.18L235.68 374.17L236.32 374.16L236.97 374.15L237.61 374.14L238.25 374.12L238.89 374.1L239.53 374.08L240.18 374.06L240.82 374.03L241.46 374L242.1 373.97L242.74 373.92L243.38 373.88L244.03 373.83L244.67 373.77L245.31 373.7L245.95 373.62L246.59 373.53L247.24 373.43L247.88 373.32L248.52 373.19L249.16 373.04L249.8 372.87L250.44 372.68L251.09 372.47L251.73 372.23L252.37 371.96L253.01 371.65L253.65 371.3L254.29 370.92L254.94 370.48L255.58 370L256.22 369.46L256.86 368.87L257.5 368.21L258.15 367.49L258.79 366.7L259.43 365.84L260.07 364.91L260.71 363.9L261.35 362.83L262 361.7L262.64 360.5L263.28 359.24L263.92 357.94L264.56 356.6L265.21 355.24L265.85 353.86L266.49 352.47L267.13 351.1L267.77 349.74L268.41 348.42L269.06 347.14L269.7 345.92L270.34 344.75L270.98 343.64L271.62 342.61L272.27 341.64L272.91 340.74L273.55 339.92L274.19 339.16L274.83 338.47L275.47 337.85L276.12 337.28L276.76 336.77L277.4 336.32L278.04 335.91L278.68 335.54L279.32 335.21L279.97 334.92L280.61 334.67L281.25 334.44L281.89 334.24L282.53 334.06L283.18 333.9L283.82 333.77L284.46 333.64L285.1 333.54L285.74 333.44L286.38 333.36L287.03 333.29L287.67 333.22L288.31 333.17L288.95 333.12L289.59 333.07L290.24 333.04L290.88 333L291.52 332.97L292.16 332.95L292.8 332.93L293.44 332.91L294.09 332.89L294.73 332.88L295.37 332.86L296.01 332.85L296.65 332.84L297.29 332.83L297.94 332.82L298.58 332.82M198.1 374.25H204.3" stroke="#a055b0" stroke-width="1.2" fill="none" stroke-linejoin="round"/>
<path d="M198.6 367.54V372.42M196.9 367.54h3.4M196.9 372.42h3.4M263.33 357.78V360.22M261.63 357.78h3.4M261.63 360.22h3.4M274.95 337.04V339.48M273.25 337.04h3.4M273.25 339.48h3.4M298.19 328.5V335.82M296.49 328.5h3.4M296.49 335.82h3.4" stroke="#a055b0" stroke-width="0.85" fill="none"/>
<path d="M198.6 368.38L200.2 371.26H197Z" fill="none" stroke="#a055b0" stroke-width="0.8"/>
<path d="M216.85 372.65L218.45 375.53H215.25Z" fill="none" stroke="#a055b0" stroke-width="0.8"/>
<path d="M228.47 372.04L230.07 374.92H226.87Z" fill="none" stroke="#a055b0" stroke-width="0.8"/>
<path d="M240.09 372.65L241.69 375.53H238.49Z" fill="none" stroke="#a055b0" stroke-width="0.8"/>
<path d="M251.71 370.82L253.31 373.7H250.11Z" fill="none" stroke="#a055b0" stroke-width="0.8"/>
<path d="M263.33 357.4L264.93 360.28H261.73Z" fill="none" stroke="#a055b0" stroke-width="0.8"/>
<path d="M274.95 336.66L276.55 339.54H273.35Z" fill="none" stroke="#a055b0" stroke-width="0.8"/>
<path d="M286.57 331.78L288.17 334.66H284.97Z" fill="none" stroke="#a055b0" stroke-width="0.8"/>
<path d="M298.19 330.56L299.79 333.44H296.59Z" fill="none" stroke="#a055b0" stroke-width="0.8"/>
<path d="M205.3 408H223.1" stroke="#222" stroke-width="0.9"/>
<circle cx="214.2" cy="408" r="1.27" fill="none" stroke="#222" stroke-width="0.85"/>
<text class="lg2" x="227" y="410.15">CD8<tspan dy="-2.2" font-size="4">+</tspan><tspan dy="2.2"> T-cells</tspan></text>
<path d="M205.3 420.1H223.1" stroke="#a055b0" stroke-width="0.9"/>
<path d="M214.2 418.63L215.67 421.28H212.73Z" fill="none" stroke="#a055b0" stroke-width="0.8"/>
<text class="lg2" x="227" y="422.25">CD8<tspan dy="-2.2" font-size="4">+</tspan><tspan dy="2.2"> CD45RA</tspan><tspan dy="-2.2" font-size="4">+</tspan><tspan dy="2.2"> T-cells</tspan></text>
<g class="tk" text-anchor="end">
<text x="374.1" y="373">0</text>
<text x="374.1" y="360.8">20</text>
<text x="374.1" y="348.6">40</text>
<text x="374.1" y="336.4">60</text>
<text x="374.1" y="324.2">80</text>
<text x="374.1" y="312">100</text>
</g>
<g class="tk" text-anchor="end">
<text transform="translate(380.2 379.2) rotate(-45)">0</text>
<text transform="translate(394.9 379.2) rotate(-45)">0.001</text>
<text transform="translate(406.58 379.2) rotate(-45)">0.01</text>
<text transform="translate(418.26 379.2) rotate(-45)">0.1</text>
<text transform="translate(429.94 379.2) rotate(-45)">1</text>
<text transform="translate(441.62 379.2) rotate(-45)">10</text>
<text transform="translate(453.3 379.2) rotate(-45)">100</text>
<text transform="translate(464.98 379.2) rotate(-45)">1,000</text>
<text transform="translate(476.66 379.2) rotate(-45)">10,000</text>
<text transform="translate(488.34 379.2) rotate(-45)">100,000</text>
</g>
<text class="ti" text-anchor="middle" x="432.52" y="397.5">DLL3/CD3 ITE (ng/mL)</text>
<text class="ty" text-anchor="middle" transform="translate(360.5 340.2) rotate(-90)">% Lysis relative to control</text>
<text class="pl" x="356" y="292.3">I</text>
<path d="M387.93 371.2L388.57 371.2L389.21 371.2L389.85 371.2L390.5 371.2L391.14 371.2L391.78 371.2L392.42 371.2L393.06 371.2L393.7 371.2L394.35 371.2L394.99 371.2L395.63 371.2L396.27 371.2L396.91 371.2L397.55 371.2L398.2 371.2L398.84 371.2L399.48 371.2L400.12 371.2L400.76 371.2L401.41 371.2L402.05 371.2L402.69 371.2L403.33 371.2L403.97 371.2L404.61 371.2L405.26 371.2L405.9 371.2L406.54 371.2L407.18 371.2L407.82 371.2L408.47 371.2L409.11 371.2L409.75 371.2L410.39 371.2L411.03 371.2L411.67 371.2L412.32 371.2L412.96 371.2L413.6 371.2L414.24 371.2L414.88 371.2L415.52 371.2L416.17 371.2L416.81 371.2L417.45 371.2L418.09 371.2L418.73 371.2L419.38 371.2L420.02 371.2L420.66 371.2L421.3 371.2L421.94 371.19L422.58 371.19L423.23 371.19L423.87 371.19L424.51 371.19L425.15 371.19L425.79 371.18L426.44 371.18L427.08 371.17L427.72 371.17L428.36 371.16L429 371.15L429.64 371.14L430.29 371.13L430.93 371.11L431.57 371.09L432.21 371.06L432.85 371.03L433.49 370.99L434.14 370.95L434.78 370.89L435.42 370.82L436.06 370.74L436.7 370.63L437.35 370.51L437.99 370.35L438.63 370.17L439.27 369.94L439.91 369.67L440.55 369.34L441.2 368.94L441.84 368.46L442.48 367.9L443.12 367.23L443.76 366.44L444.41 365.53L445.05 364.48L445.69 363.28L446.33 361.94L446.97 360.45L447.61 358.84L448.26 357.11L448.9 355.3L449.54 353.44L450.18 351.57L450.82 349.72L451.47 347.94L452.11 346.26L452.75 344.7L453.39 343.27L454.03 341.99L454.67 340.85L455.32 339.86L455.96 339.01L456.6 338.27L457.24 337.65L457.88 337.12L458.52 336.68L459.17 336.32L459.81 336.01L460.45 335.76L461.09 335.55L461.73 335.38L462.38 335.24L463.02 335.12L463.66 335.02L464.3 334.95L464.94 334.88L465.58 334.83L466.23 334.79L466.87 334.75L467.51 334.73L468.15 334.7L468.79 334.68L469.44 334.67L470.08 334.66L470.72 334.65L471.36 334.64L472 334.63L472.64 334.62L473.29 334.62L473.93 334.62L474.57 334.61L475.21 334.61L475.85 334.61L476.49 334.61L477.14 334.61L477.78 334.6M377.3 371.2H383.5" stroke="#5cb85c" stroke-width="1.05" fill="none" stroke-linejoin="round"/>
<path d="M376.2 369.6L379.4 372.8M379.4 369.6L376.2 372.8" stroke="#5cb85c" stroke-width="0.9" fill="none"/>
<path d="M394.45 369.6L397.65 372.8M397.65 369.6L394.45 372.8" stroke="#5cb85c" stroke-width="0.9" fill="none"/>
<path d="M406.07 369.6L409.27 372.8M409.27 369.6L406.07 372.8" stroke="#5cb85c" stroke-width="0.9" fill="none"/>
<path d="M417.69 369.6L420.89 372.8M420.89 369.6L417.69 372.8" stroke="#5cb85c" stroke-width="0.9" fill="none"/>
<path d="M429.31 369.6L432.51 372.8M432.51 369.6L429.31 372.8" stroke="#5cb85c" stroke-width="0.9" fill="none"/>
<path d="M440.93 363.5L444.13 366.7M444.13 363.5L440.93 366.7" stroke="#5cb85c" stroke-width="0.9" fill="none"/>
<path d="M452.55 341.54L455.75 344.74M455.75 341.54L452.55 344.74" stroke="#5cb85c" stroke-width="0.9" fill="none"/>
<path d="M464.17 330.56L467.37 333.76M467.37 330.56L464.17 333.76" stroke="#5cb85c" stroke-width="0.9" fill="none"/>
<path d="M475.79 338.49L478.99 341.69M478.99 338.49L475.79 341.69" stroke="#5cb85c" stroke-width="0.9" fill="none"/>
<path d="M387.93 371.2L388.57 371.2L389.21 371.2L389.85 371.2L390.5 371.2L391.14 371.2L391.78 371.2L392.42 371.2L393.06 371.2L393.7 371.2L394.35 371.2L394.99 371.19L395.63 371.19L396.27 371.19L396.91 371.19L397.55 371.19L398.2 371.19L398.84 371.19L399.48 371.19L400.12 371.19L400.76 371.19L401.41 371.18L402.05 371.18L402.69 371.18L403.33 371.18L403.97 371.18L404.61 371.18L405.26 371.18L405.9 371.17L406.54 371.17L407.18 371.17L407.82 371.17L408.47 371.17L409.11 371.16L409.75 371.16L410.39 371.16L411.03 371.16L411.67 371.15L412.32 371.15L412.96 371.15L413.6 371.14L414.24 371.14L414.88 371.14L415.52 371.13L416.17 371.13L416.81 371.13L417.45 371.12L418.09 371.12L418.73 371.12L419.38 371.11L420.02 371.11L420.66 371.1L421.3 371.1L421.94 371.09L422.58 371.09L423.23 371.09L423.87 371.08L424.51 371.08L425.15 371.07L425.79 371.06L426.44 371.06L427.08 371.05L427.72 371.05L428.36 371.04L429 371.04L429.64 371.03L430.29 371.02L430.93 371.02L431.57 371L432.21 370.95L432.85 370.88L433.49 370.78L434.14 370.65L434.78 370.5L435.42 370.32L436.06 370.11L436.7 369.88L437.35 369.62L437.99 369.06L438.63 368.17L439.27 367.08L439.91 365.89L440.55 364.3L441.2 362.4L441.84 360.4L442.48 358.53L443.12 356.89L443.76 355.36L444.41 353.79L445.05 352.03L445.69 349.85L446.33 347.09L446.97 344.03L447.61 340.97L448.26 338.24L448.9 335.94L449.54 333.75L450.18 331.71L450.82 329.89L451.47 328.38L452.11 327.18L452.75 326.16L453.39 325.27L454.03 324.49L454.67 323.74L455.32 323.02L455.96 322.37L456.6 321.84L457.24 321.46L457.88 321.18L458.52 320.93L459.17 320.71L459.81 320.52L460.45 320.35L461.09 320.21L461.73 320.09L462.38 319.99L463.02 319.91L463.66 319.82L464.3 319.74L464.94 319.66L465.58 319.59L466.23 319.52L466.87 319.47L467.51 319.42L468.15 319.39L468.79 319.36L469.44 319.35L470.08 319.35L470.72 319.36L471.36 319.38L472 319.41L472.64 319.45L473.29 319.49L473.93 319.55L474.57 319.61L475.21 319.68L475.85 319.77L476.49 319.92L477.14 320.2L477.78 320.52M377.3 371.2H383.5" stroke="#1a1a1a" stroke-width="1.05" fill="none" stroke-linejoin="round"/>
<path d="M377.8 369.98V372.42M376.1 369.98h3.4M376.1 372.42h3.4M419.29 374.86V377.3M417.59 374.86h3.4M417.59 377.3h3.4M430.91 366.32V371.2M429.21 366.32h3.4M429.21 371.2h3.4M442.53 355.34V362.66M440.83 355.34h3.4M440.83 362.66h3.4M454.15 322.09V326.37M452.45 322.09h3.4M452.45 326.37h3.4M465.77 315.08V318.74M464.07 315.08h3.4M464.07 318.74h3.4" stroke="#1a1a1a" stroke-width="0.85" fill="none"/>
<path d="M377.8 373.73L380.1 369.13H375.5Z" fill="#1a1a1a"/>
<path d="M396.05 373.12L398.35 368.52H393.75Z" fill="#1a1a1a"/>
<path d="M407.67 373.12L409.97 368.52H405.37Z" fill="#1a1a1a"/>
<path d="M419.29 378.61L421.59 374.01H416.99Z" fill="#1a1a1a"/>
<path d="M430.91 371.29L433.21 366.69H428.61Z" fill="#1a1a1a"/>
<path d="M442.53 361.53L444.83 356.93H440.23Z" fill="#1a1a1a"/>
<path d="M454.15 326.76L456.45 322.16H451.85Z" fill="#1a1a1a"/>
<path d="M465.77 319.44L468.07 314.84H463.47Z" fill="#1a1a1a"/>
<path d="M477.39 324.32L479.69 319.72H475.09Z" fill="#1a1a1a"/>
<path d="M385.4 406.8H402" stroke="#1a1a1a" stroke-width="0.9"/>
<path d="M393.7 409.13L395.82 404.9H391.58Z" fill="#1a1a1a"/>
<text class="lg2" x="407" y="408.95">T-cells</text>
<path d="M385.4 419.2H402" stroke="#5cb85c" stroke-width="0.9"/>
<path d="M392.23 417.73L395.17 420.67M395.17 417.73L392.23 420.67" stroke="#5cb85c" stroke-width="0.9" fill="none"/>
<text class="lg2" x="407" y="421.35">Naive T-cells</text>
<g stroke="#111" stroke-width="1" fill="none">
<path d="M22.5 19.3V87"/>
<path d="M22 86.5H28.5M33 86.5H133.34"/>
<path d="M19.9 86.5H22.5M19.9 74.44H22.5M19.9 62.38H22.5M19.9 50.32H22.5M19.9 38.26H22.5M19.9 26.2H22.5" stroke-width="0.95"/>
<path d="M132.94 86.5v3M22.5 86.5v3.6M28.5 84.9v3.2M33 84.9v3.2M39.5 86.5v3M51.18 86.5v3M62.86 86.5v3M74.54 86.5v3M86.22 86.5v3M97.9 86.5v3M109.58 86.5v3M121.26 86.5v3" stroke-width="0.95"/>
</g>
<g stroke="#111" stroke-width="1" fill="none">
<path d="M199.6 19.3V87"/>
<path d="M199.1 86.5H205.6M210.1 86.5H310.44"/>
<path d="M197 86.5H199.6M197 74.44H199.6M197 62.38H199.6M197 50.32H199.6M197 38.26H199.6M197 26.2H199.6" stroke-width="0.95"/>
<path d="M310.04 86.5v3M199.6 86.5v3.6M205.6 84.9v3.2M210.1 84.9v3.2M216.6 86.5v3M228.28 86.5v3M239.96 86.5v3M251.64 86.5v3M263.32 86.5v3M275 86.5v3M286.68 86.5v3M298.36 86.5v3" stroke-width="0.95"/>
</g>
<g stroke="#111" stroke-width="1" fill="none">
<path d="M377.3 18.9V86.6"/>
<path d="M376.8 86.1H383.3M387.8 86.1H488.14"/>
<path d="M374.7 86.1H377.3M374.7 74.04H377.3M374.7 61.98H377.3M374.7 49.92H377.3M374.7 37.86H377.3M374.7 25.8H377.3" stroke-width="0.95"/>
<path d="M487.74 86.1v3M377.3 86.1v3.6M383.3 84.5v3.2M387.8 84.5v3.2M394.3 86.1v3M405.98 86.1v3M417.66 86.1v3M429.34 86.1v3M441.02 86.1v3M452.7 86.1v3M464.38 86.1v3M476.06 86.1v3" stroke-width="0.95"/>
</g>
<g stroke="#111" stroke-width="1" fill="none">
<path d="M22.5 151.6V219.3"/>
<path d="M22 218.8H28.5M33 218.8H133.34"/>
<path d="M19.9 218.8H22.5M19.9 206.58H22.5M19.9 194.36H22.5M19.9 182.14H22.5M19.9 169.92H22.5M19.9 157.7H22.5" stroke-width="0.95"/>
<path d="M132.94 218.8v3M22.5 218.8v3.6M28.5 217.2v3.2M33 217.2v3.2M39.5 218.8v3M51.18 218.8v3M62.86 218.8v3M74.54 218.8v3M86.22 218.8v3M97.9 218.8v3M109.58 218.8v3M121.26 218.8v3" stroke-width="0.95"/>
</g>
<g stroke="#111" stroke-width="1" fill="none">
<path d="M199.5 151.6V219.3"/>
<path d="M199 218.8H205.5M210 218.8H310.34"/>
<path d="M196.9 218.8H199.5M196.9 206.58H199.5M196.9 194.36H199.5M196.9 182.14H199.5M196.9 169.92H199.5M196.9 157.7H199.5" stroke-width="0.95"/>
<path d="M309.94 218.8v3M199.5 218.8v3.6M205.5 217.2v3.2M210 217.2v3.2M216.5 218.8v3M228.18 218.8v3M239.86 218.8v3M251.54 218.8v3M263.22 218.8v3M274.9 218.8v3M286.58 218.8v3M298.26 218.8v3" stroke-width="0.95"/>
</g>
<g stroke="#111" stroke-width="1" fill="none">
<path d="M377.2 151.6V219.3"/>
<path d="M376.7 218.8H383.2M387.7 218.8H488.04"/>
<path d="M374.6 218.8H377.2M374.6 206.58H377.2M374.6 194.36H377.2M374.6 182.14H377.2M374.6 169.92H377.2M374.6 157.7H377.2" stroke-width="0.95"/>
<path d="M487.64 218.8v3M377.2 218.8v3.6M383.2 217.2v3.2M387.7 217.2v3.2M394.2 218.8v3M405.88 218.8v3M417.56 218.8v3M429.24 218.8v3M440.92 218.8v3M452.6 218.8v3M464.28 218.8v3M475.96 218.8v3" stroke-width="0.95"/>
</g>
<g stroke="#111" stroke-width="1" fill="none">
<path d="M22.5 304V371.7"/>
<path d="M22 371.2H28.5M33 371.2H133.34"/>
<path d="M19.9 371.2H22.5M19.9 359H22.5M19.9 346.8H22.5M19.9 334.6H22.5M19.9 322.4H22.5M19.9 310.2H22.5" stroke-width="0.95"/>
<path d="M132.94 371.2v3M22.5 371.2v3.6M28.5 369.6v3.2M33 369.6v3.2M39.5 371.2v3M51.18 371.2v3M62.86 371.2v3M74.54 371.2v3M86.22 371.2v3M97.9 371.2v3M109.58 371.2v3M121.26 371.2v3" stroke-width="0.95"/>
</g>
<g stroke="#111" stroke-width="1" fill="none">
<path d="M198.1 304V371.7"/>
<path d="M197.6 371.2H204.1M208.6 371.2H308.94"/>
<path d="M195.5 371.2H198.1M195.5 359H198.1M195.5 346.8H198.1M195.5 334.6H198.1M195.5 322.4H198.1M195.5 310.2H198.1" stroke-width="0.95"/>
<path d="M308.54 371.2v3M198.1 371.2v3.6M204.1 369.6v3.2M208.6 369.6v3.2M215.1 371.2v3M226.78 371.2v3M238.46 371.2v3M250.14 371.2v3M261.82 371.2v3M273.5 371.2v3M285.18 371.2v3M296.86 371.2v3" stroke-width="0.95"/>
</g>
<g stroke="#111" stroke-width="1" fill="none">
<path d="M377.3 304V371.7"/>
<path d="M376.8 371.2H383.3M387.8 371.2H488.14"/>
<path d="M374.7 371.2H377.3M374.7 359H377.3M374.7 346.8H377.3M374.7 334.6H377.3M374.7 322.4H377.3M374.7 310.2H377.3" stroke-width="0.95"/>
<path d="M487.74 371.2v3M377.3 371.2v3.6M383.3 369.6v3.2M387.8 369.6v3.2M394.3 371.2v3M405.98 371.2v3M417.66 371.2v3M429.34 371.2v3M441.02 371.2v3M452.7 371.2v3M464.38 371.2v3M476.06 371.2v3" stroke-width="0.95"/>
</g>
</svg>
</body></html>
